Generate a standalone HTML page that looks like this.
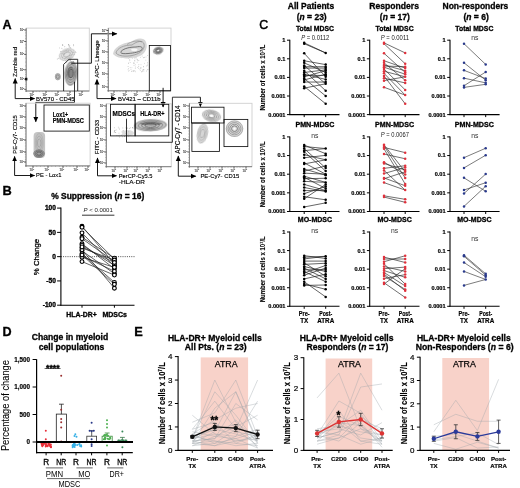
<!DOCTYPE html>
<html><head><meta charset="utf-8"><style>
html,body{margin:0;padding:0;background:#fff;width:520px;height:488px;overflow:hidden}
svg{display:block;font-family:"Liberation Sans", sans-serif;filter:blur(0.25px)}
</style></head><body>
<svg width="520" height="488" viewBox="0 0 520 488">
<defs>
<marker id="ah" markerWidth="6" markerHeight="6" refX="5" refY="3" orient="auto" markerUnits="userSpaceOnUse"><path d="M0,0.5 L5.5,3 L0,5.5 z" fill="#000"/></marker>
<filter id="blur05" x="-50%" y="-50%" width="200%" height="200%"><feGaussianBlur stdDeviation="0.45"/></filter>
<filter id="blur1" x="-50%" y="-50%" width="200%" height="200%"><feGaussianBlur stdDeviation="0.6"/></filter>
<filter id="blur2" x="-50%" y="-50%" width="200%" height="200%"><feGaussianBlur stdDeviation="1.2"/></filter>
</defs>
<text x="7.10" y="29.13" font-size="12.6" font-weight="bold" text-anchor="middle" fill="#000" stroke="#000" stroke-width="0.32">A</text>
<rect x="26.20" y="28.10" width="63.10" height="62.90" fill="none" stroke="#cfcfcf" stroke-width="0.9"/>
<line x1="26.20" y1="28.10" x2="26.20" y2="92.00" stroke="#666" stroke-width="0.8"/>
<line x1="25.20" y1="91.00" x2="89.30" y2="91.00" stroke="#666" stroke-width="0.8"/>
<line x1="24.20" y1="30.00" x2="26.20" y2="30.00" stroke="#333" stroke-width="0.8"/>
<text x="22.00" y="31.00" font-size="3.0" text-anchor="middle" fill="#333" stroke="#333" stroke-width="0.1">10<tspan font-size="2.3" dy="-1.3">x</tspan></text>
<line x1="24.20" y1="41.50" x2="26.20" y2="41.50" stroke="#333" stroke-width="0.8"/>
<text x="22.00" y="42.50" font-size="3.0" text-anchor="middle" fill="#333" stroke="#333" stroke-width="0.1">10<tspan font-size="2.3" dy="-1.3">x</tspan></text>
<line x1="24.20" y1="54.40" x2="26.20" y2="54.40" stroke="#333" stroke-width="0.8"/>
<text x="22.00" y="55.40" font-size="3.0" text-anchor="middle" fill="#333" stroke="#333" stroke-width="0.1">10<tspan font-size="2.3" dy="-1.3">x</tspan></text>
<line x1="24.20" y1="69.80" x2="26.20" y2="69.80" stroke="#333" stroke-width="0.8"/>
<text x="22.00" y="70.80" font-size="3.0" text-anchor="middle" fill="#333" stroke="#333" stroke-width="0.1">10<tspan font-size="2.3" dy="-1.3">x</tspan></text>
<line x1="24.20" y1="79.20" x2="26.20" y2="79.20" stroke="#333" stroke-width="0.8"/>
<text x="22.00" y="80.20" font-size="3.0" text-anchor="middle" fill="#333" stroke="#333" stroke-width="0.1">10<tspan font-size="2.3" dy="-1.3">x</tspan></text>
<line x1="24.20" y1="89.30" x2="26.20" y2="89.30" stroke="#333" stroke-width="0.8"/>
<text x="22.00" y="90.30" font-size="3.0" text-anchor="middle" fill="#333" stroke="#333" stroke-width="0.1">10<tspan font-size="2.3" dy="-1.3">x</tspan></text>
<line x1="25.10" y1="32.88" x2="26.20" y2="32.88" stroke="#888" stroke-width="0.5"/>
<line x1="25.10" y1="35.75" x2="26.20" y2="35.75" stroke="#888" stroke-width="0.5"/>
<line x1="25.10" y1="38.62" x2="26.20" y2="38.62" stroke="#888" stroke-width="0.5"/>
<line x1="25.10" y1="44.73" x2="26.20" y2="44.73" stroke="#888" stroke-width="0.5"/>
<line x1="25.10" y1="47.95" x2="26.20" y2="47.95" stroke="#888" stroke-width="0.5"/>
<line x1="25.10" y1="51.17" x2="26.20" y2="51.17" stroke="#888" stroke-width="0.5"/>
<line x1="25.10" y1="58.25" x2="26.20" y2="58.25" stroke="#888" stroke-width="0.5"/>
<line x1="25.10" y1="62.10" x2="26.20" y2="62.10" stroke="#888" stroke-width="0.5"/>
<line x1="25.10" y1="65.95" x2="26.20" y2="65.95" stroke="#888" stroke-width="0.5"/>
<line x1="25.10" y1="72.15" x2="26.20" y2="72.15" stroke="#888" stroke-width="0.5"/>
<line x1="25.10" y1="74.50" x2="26.20" y2="74.50" stroke="#888" stroke-width="0.5"/>
<line x1="25.10" y1="76.85" x2="26.20" y2="76.85" stroke="#888" stroke-width="0.5"/>
<line x1="25.10" y1="81.72" x2="26.20" y2="81.72" stroke="#888" stroke-width="0.5"/>
<line x1="25.10" y1="84.25" x2="26.20" y2="84.25" stroke="#888" stroke-width="0.5"/>
<line x1="25.10" y1="86.78" x2="26.20" y2="86.78" stroke="#888" stroke-width="0.5"/>
<line x1="33.00" y1="91.00" x2="33.00" y2="93.00" stroke="#333" stroke-width="0.8"/>
<text x="31.80" y="96.00" font-size="3.0" text-anchor="middle" fill="#333" stroke="#333" stroke-width="0.1">10<tspan font-size="2.3" dy="-1.3">x</tspan></text>
<line x1="46.00" y1="91.00" x2="46.00" y2="93.00" stroke="#333" stroke-width="0.8"/>
<text x="44.80" y="96.00" font-size="3.0" text-anchor="middle" fill="#333" stroke="#333" stroke-width="0.1">10<tspan font-size="2.3" dy="-1.3">x</tspan></text>
<line x1="58.00" y1="91.00" x2="58.00" y2="93.00" stroke="#333" stroke-width="0.8"/>
<text x="56.80" y="96.00" font-size="3.0" text-anchor="middle" fill="#333" stroke="#333" stroke-width="0.1">10<tspan font-size="2.3" dy="-1.3">x</tspan></text>
<line x1="70.00" y1="91.00" x2="70.00" y2="93.00" stroke="#333" stroke-width="0.8"/>
<text x="68.80" y="96.00" font-size="3.0" text-anchor="middle" fill="#333" stroke="#333" stroke-width="0.1">10<tspan font-size="2.3" dy="-1.3">x</tspan></text>
<line x1="82.00" y1="91.00" x2="82.00" y2="93.00" stroke="#333" stroke-width="0.8"/>
<text x="80.80" y="96.00" font-size="3.0" text-anchor="middle" fill="#333" stroke="#333" stroke-width="0.1">10<tspan font-size="2.3" dy="-1.3">x</tspan></text>
<line x1="36.25" y1="91.00" x2="36.25" y2="92.10" stroke="#888" stroke-width="0.5"/>
<line x1="39.50" y1="91.00" x2="39.50" y2="92.10" stroke="#888" stroke-width="0.5"/>
<line x1="42.75" y1="91.00" x2="42.75" y2="92.10" stroke="#888" stroke-width="0.5"/>
<line x1="49.00" y1="91.00" x2="49.00" y2="92.10" stroke="#888" stroke-width="0.5"/>
<line x1="52.00" y1="91.00" x2="52.00" y2="92.10" stroke="#888" stroke-width="0.5"/>
<line x1="55.00" y1="91.00" x2="55.00" y2="92.10" stroke="#888" stroke-width="0.5"/>
<line x1="61.00" y1="91.00" x2="61.00" y2="92.10" stroke="#888" stroke-width="0.5"/>
<line x1="64.00" y1="91.00" x2="64.00" y2="92.10" stroke="#888" stroke-width="0.5"/>
<line x1="67.00" y1="91.00" x2="67.00" y2="92.10" stroke="#888" stroke-width="0.5"/>
<line x1="73.00" y1="91.00" x2="73.00" y2="92.10" stroke="#888" stroke-width="0.5"/>
<line x1="76.00" y1="91.00" x2="76.00" y2="92.10" stroke="#888" stroke-width="0.5"/>
<line x1="79.00" y1="91.00" x2="79.00" y2="92.10" stroke="#888" stroke-width="0.5"/>
<rect x="25.00" y="77.80" width="2.40" height="2.60" fill="#111" stroke="none" stroke-width="1"/>
<circle cx="61.52" cy="53.80" r="0.45" fill="#999" stroke="none" stroke-width="1"/>
<circle cx="64.03" cy="54.87" r="0.45" fill="#999" stroke="none" stroke-width="1"/>
<circle cx="68.89" cy="45.18" r="0.45" fill="#999" stroke="none" stroke-width="1"/>
<circle cx="57.25" cy="59.07" r="0.45" fill="#999" stroke="none" stroke-width="1"/>
<circle cx="61.93" cy="48.22" r="0.45" fill="#999" stroke="none" stroke-width="1"/>
<circle cx="75.92" cy="52.46" r="0.45" fill="#999" stroke="none" stroke-width="1"/>
<circle cx="72.89" cy="52.57" r="0.45" fill="#999" stroke="none" stroke-width="1"/>
<circle cx="69.14" cy="46.71" r="0.45" fill="#999" stroke="none" stroke-width="1"/>
<circle cx="69.06" cy="59.62" r="0.45" fill="#999" stroke="none" stroke-width="1"/>
<circle cx="66.94" cy="57.34" r="0.45" fill="#999" stroke="none" stroke-width="1"/>
<circle cx="69.76" cy="45.15" r="0.45" fill="#999" stroke="none" stroke-width="1"/>
<circle cx="71.41" cy="54.64" r="0.45" fill="#999" stroke="none" stroke-width="1"/>
<circle cx="62.72" cy="44.56" r="0.45" fill="#999" stroke="none" stroke-width="1"/>
<circle cx="73.45" cy="52.51" r="0.45" fill="#999" stroke="none" stroke-width="1"/>
<circle cx="70.66" cy="59.82" r="0.45" fill="#999" stroke="none" stroke-width="1"/>
<circle cx="70.57" cy="60.58" r="0.45" fill="#999" stroke="none" stroke-width="1"/>
<circle cx="64.50" cy="58.42" r="0.45" fill="#999" stroke="none" stroke-width="1"/>
<circle cx="65.45" cy="60.84" r="0.45" fill="#999" stroke="none" stroke-width="1"/>
<circle cx="73.70" cy="45.75" r="0.45" fill="#999" stroke="none" stroke-width="1"/>
<circle cx="59.58" cy="47.91" r="0.45" fill="#999" stroke="none" stroke-width="1"/>
<circle cx="75.34" cy="51.85" r="0.45" fill="#999" stroke="none" stroke-width="1"/>
<circle cx="68.91" cy="49.42" r="0.45" fill="#999" stroke="none" stroke-width="1"/>
<circle cx="66.64" cy="50.95" r="0.45" fill="#999" stroke="none" stroke-width="1"/>
<circle cx="63.67" cy="54.53" r="0.45" fill="#999" stroke="none" stroke-width="1"/>
<circle cx="68.10" cy="60.28" r="0.45" fill="#999" stroke="none" stroke-width="1"/>
<circle cx="69.96" cy="60.72" r="0.45" fill="#999" stroke="none" stroke-width="1"/>
<circle cx="73.27" cy="61.84" r="0.45" fill="#999" stroke="none" stroke-width="1"/>
<circle cx="69.75" cy="46.94" r="0.45" fill="#999" stroke="none" stroke-width="1"/>
<circle cx="73.35" cy="61.36" r="0.45" fill="#999" stroke="none" stroke-width="1"/>
<circle cx="74.19" cy="54.24" r="0.45" fill="#999" stroke="none" stroke-width="1"/>
<circle cx="70.56" cy="47.80" r="0.45" fill="#999" stroke="none" stroke-width="1"/>
<circle cx="72.80" cy="54.32" r="0.45" fill="#999" stroke="none" stroke-width="1"/>
<circle cx="62.41" cy="45.14" r="0.45" fill="#999" stroke="none" stroke-width="1"/>
<circle cx="73.22" cy="61.82" r="0.45" fill="#999" stroke="none" stroke-width="1"/>
<circle cx="58.68" cy="58.41" r="0.45" fill="#999" stroke="none" stroke-width="1"/>
<circle cx="64.80" cy="46.71" r="0.45" fill="#999" stroke="none" stroke-width="1"/>
<circle cx="62.58" cy="57.84" r="0.45" fill="#999" stroke="none" stroke-width="1"/>
<circle cx="73.58" cy="44.80" r="0.45" fill="#999" stroke="none" stroke-width="1"/>
<circle cx="68.68" cy="44.81" r="0.45" fill="#999" stroke="none" stroke-width="1"/>
<circle cx="70.65" cy="49.96" r="0.45" fill="#999" stroke="none" stroke-width="1"/>
<circle cx="73.74" cy="61.65" r="0.45" fill="#999" stroke="none" stroke-width="1"/>
<circle cx="66.60" cy="61.97" r="0.45" fill="#999" stroke="none" stroke-width="1"/>
<circle cx="62.88" cy="45.39" r="0.45" fill="#999" stroke="none" stroke-width="1"/>
<circle cx="68.40" cy="44.56" r="0.45" fill="#999" stroke="none" stroke-width="1"/>
<circle cx="60.75" cy="51.34" r="0.45" fill="#999" stroke="none" stroke-width="1"/>
<g filter="url(#blur05)" transform="rotate(-25 67.00 54.50)">
<ellipse cx="67.00" cy="54.50" rx="8.64" ry="5.94" fill="#ccc" opacity="0.55"/>
<ellipse cx="67.00" cy="54.50" rx="8.00" ry="5.50" fill="none" stroke="#888" stroke-width="0.7" opacity="0.45"/>
<ellipse cx="67.00" cy="54.50" rx="5.73" ry="3.94" fill="none" stroke="#888" stroke-width="0.7" opacity="0.68"/>
<ellipse cx="67.00" cy="54.50" rx="3.47" ry="2.38" fill="none" stroke="#888" stroke-width="0.7" opacity="0.90"/>
</g>
<g filter="url(#blur05)" transform="rotate(4 71.00 73.50)">
<ellipse cx="71.00" cy="73.50" rx="6.48" ry="12.42" fill="#aaa" opacity="0.75"/>
<ellipse cx="71.00" cy="73.50" rx="6.00" ry="11.50" fill="none" stroke="#444" stroke-width="0.8" opacity="0.45"/>
<ellipse cx="71.00" cy="73.50" rx="4.72" ry="9.06" fill="none" stroke="#444" stroke-width="0.8" opacity="0.60"/>
<ellipse cx="71.00" cy="73.50" rx="3.45" ry="6.61" fill="none" stroke="#444" stroke-width="0.8" opacity="0.75"/>
<ellipse cx="71.00" cy="73.50" rx="2.18" ry="4.17" fill="none" stroke="#444" stroke-width="0.8" opacity="0.90"/>
</g>
<ellipse cx="70.6" cy="72.5" rx="3" ry="6" fill="#555" opacity="0.55" filter="url(#blur1)"/>
<g filter="url(#blur05)" transform="rotate(0 57.80 76.70)">
<ellipse cx="57.80" cy="76.70" rx="2.81" ry="3.46" fill="#aaa" opacity="0.80"/>
<ellipse cx="57.80" cy="76.70" rx="2.60" ry="3.20" fill="none" stroke="#777" stroke-width="0.7" opacity="0.45"/>
<ellipse cx="57.80" cy="76.70" rx="1.49" ry="1.84" fill="none" stroke="#777" stroke-width="0.7" opacity="0.90"/>
</g>
<polyline points="63.60,91.00 63.60,64.40 69.00,59.30 77.70,59.30 77.70,91.00" stroke="#111" stroke-width="0.85" fill="none"/>
<text x="15.20" y="64.03" font-size="6.2" font-weight="normal" text-anchor="middle" fill="#000" transform="rotate(-90 15.20 61.90)" stroke="#000" stroke-width="0.15" textLength="29.70" lengthAdjust="spacingAndGlyphs">Zombie red</text>
<polyline points="15.20,98.60 15.20,78.60" stroke="#000" stroke-width="0.9" fill="none" marker-end="url(#ah)"/>
<polyline points="15.20,98.60 34.60,98.60" stroke="#000" stroke-width="0.9" fill="none" marker-end="url(#ah)"/>
<text x="36.00" y="100.63" font-size="6.2" font-weight="normal" text-anchor="start" fill="#000" stroke="#000" stroke-width="0.15" textLength="38.60" lengthAdjust="spacingAndGlyphs">BV570 - CD45</text>
<polyline points="71.20,63.20 91.40,63.20 91.40,33.80 116.80,33.80" stroke="#000" stroke-width="0.9" fill="none" marker-end="url(#ah)"/>
<polyline points="74.50,81.70 74.50,102.40 35.80,102.40" stroke="#111" stroke-width="0.85" fill="none"/>
<polyline points="35.80,102.40 35.80,121.80" stroke="#000" stroke-width="0.9" fill="none" marker-end="url(#ah)"/>
<rect x="108.30" y="28.10" width="62.70" height="62.70" fill="none" stroke="#cfcfcf" stroke-width="0.9"/>
<line x1="108.30" y1="28.10" x2="108.30" y2="91.80" stroke="#666" stroke-width="0.8"/>
<line x1="107.30" y1="90.80" x2="171.00" y2="90.80" stroke="#666" stroke-width="0.8"/>
<line x1="106.30" y1="30.50" x2="108.30" y2="30.50" stroke="#333" stroke-width="0.8"/>
<text x="104.10" y="31.50" font-size="3.0" text-anchor="middle" fill="#333" stroke="#333" stroke-width="0.1">10<tspan font-size="2.3" dy="-1.3">x</tspan></text>
<line x1="106.30" y1="41.00" x2="108.30" y2="41.00" stroke="#333" stroke-width="0.8"/>
<text x="104.10" y="42.00" font-size="3.0" text-anchor="middle" fill="#333" stroke="#333" stroke-width="0.1">10<tspan font-size="2.3" dy="-1.3">x</tspan></text>
<line x1="106.30" y1="52.00" x2="108.30" y2="52.00" stroke="#333" stroke-width="0.8"/>
<text x="104.10" y="53.00" font-size="3.0" text-anchor="middle" fill="#333" stroke="#333" stroke-width="0.1">10<tspan font-size="2.3" dy="-1.3">x</tspan></text>
<line x1="106.30" y1="63.00" x2="108.30" y2="63.00" stroke="#333" stroke-width="0.8"/>
<text x="104.10" y="64.00" font-size="3.0" text-anchor="middle" fill="#333" stroke="#333" stroke-width="0.1">10<tspan font-size="2.3" dy="-1.3">x</tspan></text>
<line x1="106.30" y1="74.00" x2="108.30" y2="74.00" stroke="#333" stroke-width="0.8"/>
<text x="104.10" y="75.00" font-size="3.0" text-anchor="middle" fill="#333" stroke="#333" stroke-width="0.1">10<tspan font-size="2.3" dy="-1.3">x</tspan></text>
<line x1="106.30" y1="87.00" x2="108.30" y2="87.00" stroke="#333" stroke-width="0.8"/>
<text x="104.10" y="88.00" font-size="3.0" text-anchor="middle" fill="#333" stroke="#333" stroke-width="0.1">10<tspan font-size="2.3" dy="-1.3">x</tspan></text>
<line x1="107.20" y1="33.12" x2="108.30" y2="33.12" stroke="#888" stroke-width="0.5"/>
<line x1="107.20" y1="35.75" x2="108.30" y2="35.75" stroke="#888" stroke-width="0.5"/>
<line x1="107.20" y1="38.38" x2="108.30" y2="38.38" stroke="#888" stroke-width="0.5"/>
<line x1="107.20" y1="43.75" x2="108.30" y2="43.75" stroke="#888" stroke-width="0.5"/>
<line x1="107.20" y1="46.50" x2="108.30" y2="46.50" stroke="#888" stroke-width="0.5"/>
<line x1="107.20" y1="49.25" x2="108.30" y2="49.25" stroke="#888" stroke-width="0.5"/>
<line x1="107.20" y1="54.75" x2="108.30" y2="54.75" stroke="#888" stroke-width="0.5"/>
<line x1="107.20" y1="57.50" x2="108.30" y2="57.50" stroke="#888" stroke-width="0.5"/>
<line x1="107.20" y1="60.25" x2="108.30" y2="60.25" stroke="#888" stroke-width="0.5"/>
<line x1="107.20" y1="65.75" x2="108.30" y2="65.75" stroke="#888" stroke-width="0.5"/>
<line x1="107.20" y1="68.50" x2="108.30" y2="68.50" stroke="#888" stroke-width="0.5"/>
<line x1="107.20" y1="71.25" x2="108.30" y2="71.25" stroke="#888" stroke-width="0.5"/>
<line x1="107.20" y1="77.25" x2="108.30" y2="77.25" stroke="#888" stroke-width="0.5"/>
<line x1="107.20" y1="80.50" x2="108.30" y2="80.50" stroke="#888" stroke-width="0.5"/>
<line x1="107.20" y1="83.75" x2="108.30" y2="83.75" stroke="#888" stroke-width="0.5"/>
<line x1="114.00" y1="90.80" x2="114.00" y2="92.80" stroke="#333" stroke-width="0.8"/>
<text x="112.80" y="95.80" font-size="3.0" text-anchor="middle" fill="#333" stroke="#333" stroke-width="0.1">10<tspan font-size="2.3" dy="-1.3">x</tspan></text>
<line x1="126.00" y1="90.80" x2="126.00" y2="92.80" stroke="#333" stroke-width="0.8"/>
<text x="124.80" y="95.80" font-size="3.0" text-anchor="middle" fill="#333" stroke="#333" stroke-width="0.1">10<tspan font-size="2.3" dy="-1.3">x</tspan></text>
<line x1="137.00" y1="90.80" x2="137.00" y2="92.80" stroke="#333" stroke-width="0.8"/>
<text x="135.80" y="95.80" font-size="3.0" text-anchor="middle" fill="#333" stroke="#333" stroke-width="0.1">10<tspan font-size="2.3" dy="-1.3">x</tspan></text>
<line x1="149.00" y1="90.80" x2="149.00" y2="92.80" stroke="#333" stroke-width="0.8"/>
<text x="147.80" y="95.80" font-size="3.0" text-anchor="middle" fill="#333" stroke="#333" stroke-width="0.1">10<tspan font-size="2.3" dy="-1.3">x</tspan></text>
<line x1="160.00" y1="90.80" x2="160.00" y2="92.80" stroke="#333" stroke-width="0.8"/>
<text x="158.80" y="95.80" font-size="3.0" text-anchor="middle" fill="#333" stroke="#333" stroke-width="0.1">10<tspan font-size="2.3" dy="-1.3">x</tspan></text>
<line x1="117.00" y1="90.80" x2="117.00" y2="91.90" stroke="#888" stroke-width="0.5"/>
<line x1="120.00" y1="90.80" x2="120.00" y2="91.90" stroke="#888" stroke-width="0.5"/>
<line x1="123.00" y1="90.80" x2="123.00" y2="91.90" stroke="#888" stroke-width="0.5"/>
<line x1="128.75" y1="90.80" x2="128.75" y2="91.90" stroke="#888" stroke-width="0.5"/>
<line x1="131.50" y1="90.80" x2="131.50" y2="91.90" stroke="#888" stroke-width="0.5"/>
<line x1="134.25" y1="90.80" x2="134.25" y2="91.90" stroke="#888" stroke-width="0.5"/>
<line x1="140.00" y1="90.80" x2="140.00" y2="91.90" stroke="#888" stroke-width="0.5"/>
<line x1="143.00" y1="90.80" x2="143.00" y2="91.90" stroke="#888" stroke-width="0.5"/>
<line x1="146.00" y1="90.80" x2="146.00" y2="91.90" stroke="#888" stroke-width="0.5"/>
<line x1="151.75" y1="90.80" x2="151.75" y2="91.90" stroke="#888" stroke-width="0.5"/>
<line x1="154.50" y1="90.80" x2="154.50" y2="91.90" stroke="#888" stroke-width="0.5"/>
<line x1="157.25" y1="90.80" x2="157.25" y2="91.90" stroke="#888" stroke-width="0.5"/>
<circle cx="140.46" cy="67.61" r="0.42" fill="#aaa" stroke="none" stroke-width="1"/>
<circle cx="143.90" cy="71.02" r="0.42" fill="#aaa" stroke="none" stroke-width="1"/>
<circle cx="142.80" cy="70.68" r="0.42" fill="#aaa" stroke="none" stroke-width="1"/>
<circle cx="128.58" cy="62.92" r="0.42" fill="#aaa" stroke="none" stroke-width="1"/>
<circle cx="146.87" cy="66.03" r="0.42" fill="#aaa" stroke="none" stroke-width="1"/>
<circle cx="146.02" cy="56.92" r="0.42" fill="#aaa" stroke="none" stroke-width="1"/>
<circle cx="137.38" cy="59.19" r="0.42" fill="#aaa" stroke="none" stroke-width="1"/>
<circle cx="138.88" cy="64.76" r="0.42" fill="#aaa" stroke="none" stroke-width="1"/>
<circle cx="128.26" cy="58.68" r="0.42" fill="#aaa" stroke="none" stroke-width="1"/>
<circle cx="133.59" cy="70.58" r="0.42" fill="#aaa" stroke="none" stroke-width="1"/>
<circle cx="143.31" cy="57.71" r="0.42" fill="#aaa" stroke="none" stroke-width="1"/>
<circle cx="143.94" cy="57.36" r="0.42" fill="#aaa" stroke="none" stroke-width="1"/>
<circle cx="140.35" cy="57.15" r="0.42" fill="#aaa" stroke="none" stroke-width="1"/>
<circle cx="128.04" cy="69.81" r="0.42" fill="#aaa" stroke="none" stroke-width="1"/>
<circle cx="132.19" cy="58.66" r="0.42" fill="#aaa" stroke="none" stroke-width="1"/>
<circle cx="147.65" cy="69.83" r="0.42" fill="#aaa" stroke="none" stroke-width="1"/>
<circle cx="133.79" cy="71.35" r="0.42" fill="#aaa" stroke="none" stroke-width="1"/>
<circle cx="138.78" cy="66.52" r="0.42" fill="#aaa" stroke="none" stroke-width="1"/>
<circle cx="132.10" cy="71.00" r="0.42" fill="#aaa" stroke="none" stroke-width="1"/>
<circle cx="141.81" cy="71.43" r="0.42" fill="#aaa" stroke="none" stroke-width="1"/>
<circle cx="145.87" cy="60.08" r="0.42" fill="#aaa" stroke="none" stroke-width="1"/>
<circle cx="135.22" cy="57.82" r="0.42" fill="#aaa" stroke="none" stroke-width="1"/>
<circle cx="130.91" cy="56.11" r="0.42" fill="#aaa" stroke="none" stroke-width="1"/>
<circle cx="134.03" cy="65.25" r="0.42" fill="#aaa" stroke="none" stroke-width="1"/>
<circle cx="128.07" cy="66.52" r="0.42" fill="#aaa" stroke="none" stroke-width="1"/>
<circle cx="134.76" cy="60.27" r="0.42" fill="#aaa" stroke="none" stroke-width="1"/>
<circle cx="144.37" cy="63.17" r="0.42" fill="#aaa" stroke="none" stroke-width="1"/>
<circle cx="134.32" cy="63.18" r="0.42" fill="#aaa" stroke="none" stroke-width="1"/>
<circle cx="142.09" cy="55.97" r="0.42" fill="#aaa" stroke="none" stroke-width="1"/>
<circle cx="147.50" cy="55.39" r="0.42" fill="#aaa" stroke="none" stroke-width="1"/>
<circle cx="143.00" cy="69.36" r="0.42" fill="#aaa" stroke="none" stroke-width="1"/>
<circle cx="128.36" cy="68.39" r="0.42" fill="#aaa" stroke="none" stroke-width="1"/>
<circle cx="135.32" cy="64.83" r="0.42" fill="#aaa" stroke="none" stroke-width="1"/>
<circle cx="128.18" cy="55.79" r="0.42" fill="#aaa" stroke="none" stroke-width="1"/>
<circle cx="131.62" cy="71.24" r="0.42" fill="#aaa" stroke="none" stroke-width="1"/>
<circle cx="131.93" cy="67.85" r="0.42" fill="#aaa" stroke="none" stroke-width="1"/>
<circle cx="146.59" cy="71.01" r="0.42" fill="#aaa" stroke="none" stroke-width="1"/>
<circle cx="134.89" cy="61.03" r="0.42" fill="#aaa" stroke="none" stroke-width="1"/>
<circle cx="138.49" cy="68.19" r="0.42" fill="#aaa" stroke="none" stroke-width="1"/>
<circle cx="130.16" cy="67.72" r="0.42" fill="#aaa" stroke="none" stroke-width="1"/>
<circle cx="143.94" cy="69.61" r="0.42" fill="#aaa" stroke="none" stroke-width="1"/>
<circle cx="128.73" cy="71.08" r="0.42" fill="#aaa" stroke="none" stroke-width="1"/>
<circle cx="129.82" cy="60.79" r="0.42" fill="#aaa" stroke="none" stroke-width="1"/>
<circle cx="140.22" cy="70.61" r="0.42" fill="#aaa" stroke="none" stroke-width="1"/>
<circle cx="134.80" cy="70.71" r="0.42" fill="#aaa" stroke="none" stroke-width="1"/>
<circle cx="138.90" cy="60.31" r="0.42" fill="#aaa" stroke="none" stroke-width="1"/>
<circle cx="134.34" cy="58.02" r="0.42" fill="#aaa" stroke="none" stroke-width="1"/>
<circle cx="129.56" cy="57.53" r="0.42" fill="#aaa" stroke="none" stroke-width="1"/>
<circle cx="141.78" cy="71.94" r="0.42" fill="#aaa" stroke="none" stroke-width="1"/>
<circle cx="131.23" cy="55.83" r="0.42" fill="#aaa" stroke="none" stroke-width="1"/>
<circle cx="147.73" cy="64.07" r="0.42" fill="#aaa" stroke="none" stroke-width="1"/>
<circle cx="136.12" cy="59.03" r="0.42" fill="#aaa" stroke="none" stroke-width="1"/>
<circle cx="139.88" cy="69.05" r="0.42" fill="#aaa" stroke="none" stroke-width="1"/>
<circle cx="137.11" cy="62.17" r="0.42" fill="#aaa" stroke="none" stroke-width="1"/>
<circle cx="129.11" cy="70.57" r="0.42" fill="#aaa" stroke="none" stroke-width="1"/>
<circle cx="128.65" cy="63.39" r="0.42" fill="#aaa" stroke="none" stroke-width="1"/>
<circle cx="144.77" cy="57.22" r="0.42" fill="#aaa" stroke="none" stroke-width="1"/>
<circle cx="142.63" cy="71.15" r="0.42" fill="#aaa" stroke="none" stroke-width="1"/>
<circle cx="140.61" cy="68.40" r="0.42" fill="#aaa" stroke="none" stroke-width="1"/>
<circle cx="130.13" cy="62.39" r="0.42" fill="#aaa" stroke="none" stroke-width="1"/>
<circle cx="130.98" cy="69.36" r="0.42" fill="#aaa" stroke="none" stroke-width="1"/>
<circle cx="133.90" cy="62.70" r="0.42" fill="#aaa" stroke="none" stroke-width="1"/>
<circle cx="147.99" cy="69.49" r="0.42" fill="#aaa" stroke="none" stroke-width="1"/>
<circle cx="147.52" cy="62.71" r="0.42" fill="#aaa" stroke="none" stroke-width="1"/>
<circle cx="137.76" cy="67.40" r="0.42" fill="#aaa" stroke="none" stroke-width="1"/>
<circle cx="137.58" cy="59.95" r="0.42" fill="#aaa" stroke="none" stroke-width="1"/>
<circle cx="136.08" cy="57.49" r="0.42" fill="#aaa" stroke="none" stroke-width="1"/>
<circle cx="135.54" cy="71.80" r="0.42" fill="#aaa" stroke="none" stroke-width="1"/>
<circle cx="147.20" cy="65.66" r="0.42" fill="#aaa" stroke="none" stroke-width="1"/>
<circle cx="137.99" cy="60.75" r="0.42" fill="#aaa" stroke="none" stroke-width="1"/>
<circle cx="129.78" cy="59.63" r="0.42" fill="#aaa" stroke="none" stroke-width="1"/>
<circle cx="143.64" cy="69.75" r="0.42" fill="#aaa" stroke="none" stroke-width="1"/>
<circle cx="135.23" cy="68.36" r="0.42" fill="#aaa" stroke="none" stroke-width="1"/>
<circle cx="143.50" cy="66.81" r="0.42" fill="#aaa" stroke="none" stroke-width="1"/>
<circle cx="141.28" cy="67.91" r="0.42" fill="#aaa" stroke="none" stroke-width="1"/>
<circle cx="135.27" cy="66.98" r="0.42" fill="#aaa" stroke="none" stroke-width="1"/>
<circle cx="133.62" cy="63.26" r="0.42" fill="#aaa" stroke="none" stroke-width="1"/>
<circle cx="143.39" cy="66.75" r="0.42" fill="#aaa" stroke="none" stroke-width="1"/>
<circle cx="133.88" cy="71.07" r="0.42" fill="#aaa" stroke="none" stroke-width="1"/>
<circle cx="140.99" cy="64.87" r="0.42" fill="#aaa" stroke="none" stroke-width="1"/>
<path d="M113,54 C114,47 122,43 131,42 C136,38 144,37 146,42 C148,47 146,53 140,56 C132,59 118,60 113,54 Z" fill="#c8c8c8" opacity="0.75" filter="url(#blur1)"/>
<path d="M116,53 C117,48 124,45 132,45 C137,41 143,40 144,44 C145,48 142,52 137,54 C130,57 119,57 116,53 Z" fill="none" stroke="#888" stroke-width="0.8" opacity="0.8" filter="url(#blur05)"/>
<path d="M121,51.5 C124,48 131,47 136,47 C141,46 143,47 142,49.5 C140,52 134,53 128,53.5 C123,54 120,53.5 121,51.5 Z" fill="none" stroke="#555" stroke-width="0.9" opacity="0.85" filter="url(#blur05)"/>
<ellipse cx="134.3" cy="49.8" rx="3.2" ry="1.2" fill="#fff" opacity="0.8"/>
<path d="M127,44.5 C131,41 139,40 142,42" fill="none" stroke="#777" stroke-width="0.7" opacity="0.7"/>
<g filter="url(#blur05)" transform="rotate(-15 158.20 50.60)">
<ellipse cx="158.20" cy="50.60" rx="5.18" ry="3.67" fill="#999" opacity="0.50"/>
<ellipse cx="158.20" cy="50.60" rx="4.80" ry="3.40" fill="none" stroke="#333" stroke-width="0.9" opacity="0.45"/>
<ellipse cx="158.20" cy="50.60" rx="3.44" ry="2.44" fill="none" stroke="#333" stroke-width="0.9" opacity="0.68"/>
<ellipse cx="158.20" cy="50.60" rx="2.08" ry="1.47" fill="none" stroke="#333" stroke-width="0.9" opacity="0.90"/>
<ellipse cx="158.20" cy="50.60" rx="0.96" ry="0.68" fill="#fff" opacity="0.9"/>
</g>
<rect x="149.30" y="45.50" width="21.20" height="45.30" fill="none" stroke="#111" stroke-width="0.85"/>
<text x="97.00" y="61.13" font-size="6.2" font-weight="normal" text-anchor="middle" fill="#000" transform="rotate(-90 97.00 59.00)" stroke="#000" stroke-width="0.15" textLength="37.40" lengthAdjust="spacingAndGlyphs">APC- Lineage</text>
<polyline points="97.00,98.60 97.00,79.60" stroke="#000" stroke-width="0.9" fill="none" marker-end="url(#ah)"/>
<polyline points="97.00,98.60 116.00,98.60" stroke="#000" stroke-width="0.9" fill="none" marker-end="url(#ah)"/>
<text x="118.00" y="100.63" font-size="6.2" font-weight="normal" text-anchor="start" fill="#000" stroke="#000" stroke-width="0.15" textLength="42.60" lengthAdjust="spacingAndGlyphs">BV421 – CD11b</text>
<polyline points="163.10,87.80 163.10,107.00" stroke="#000" stroke-width="0.9" fill="none" marker-end="url(#ah)"/>
<rect x="26.00" y="103.20" width="64.10" height="62.70" fill="none" stroke="#cfcfcf" stroke-width="0.9"/>
<line x1="26.00" y1="103.20" x2="26.00" y2="166.90" stroke="#666" stroke-width="0.8"/>
<line x1="25.00" y1="165.90" x2="90.10" y2="165.90" stroke="#666" stroke-width="0.8"/>
<line x1="24.00" y1="106.00" x2="26.00" y2="106.00" stroke="#333" stroke-width="0.8"/>
<text x="21.80" y="107.00" font-size="3.0" text-anchor="middle" fill="#333" stroke="#333" stroke-width="0.1">10<tspan font-size="2.3" dy="-1.3">x</tspan></text>
<line x1="24.00" y1="117.00" x2="26.00" y2="117.00" stroke="#333" stroke-width="0.8"/>
<text x="21.80" y="118.00" font-size="3.0" text-anchor="middle" fill="#333" stroke="#333" stroke-width="0.1">10<tspan font-size="2.3" dy="-1.3">x</tspan></text>
<line x1="24.00" y1="128.00" x2="26.00" y2="128.00" stroke="#333" stroke-width="0.8"/>
<text x="21.80" y="129.00" font-size="3.0" text-anchor="middle" fill="#333" stroke="#333" stroke-width="0.1">10<tspan font-size="2.3" dy="-1.3">x</tspan></text>
<line x1="24.00" y1="140.00" x2="26.00" y2="140.00" stroke="#333" stroke-width="0.8"/>
<text x="21.80" y="141.00" font-size="3.0" text-anchor="middle" fill="#333" stroke="#333" stroke-width="0.1">10<tspan font-size="2.3" dy="-1.3">x</tspan></text>
<line x1="24.00" y1="152.00" x2="26.00" y2="152.00" stroke="#333" stroke-width="0.8"/>
<text x="21.80" y="153.00" font-size="3.0" text-anchor="middle" fill="#333" stroke="#333" stroke-width="0.1">10<tspan font-size="2.3" dy="-1.3">x</tspan></text>
<line x1="24.00" y1="162.00" x2="26.00" y2="162.00" stroke="#333" stroke-width="0.8"/>
<text x="21.80" y="163.00" font-size="3.0" text-anchor="middle" fill="#333" stroke="#333" stroke-width="0.1">10<tspan font-size="2.3" dy="-1.3">x</tspan></text>
<line x1="24.90" y1="108.75" x2="26.00" y2="108.75" stroke="#888" stroke-width="0.5"/>
<line x1="24.90" y1="111.50" x2="26.00" y2="111.50" stroke="#888" stroke-width="0.5"/>
<line x1="24.90" y1="114.25" x2="26.00" y2="114.25" stroke="#888" stroke-width="0.5"/>
<line x1="24.90" y1="119.75" x2="26.00" y2="119.75" stroke="#888" stroke-width="0.5"/>
<line x1="24.90" y1="122.50" x2="26.00" y2="122.50" stroke="#888" stroke-width="0.5"/>
<line x1="24.90" y1="125.25" x2="26.00" y2="125.25" stroke="#888" stroke-width="0.5"/>
<line x1="24.90" y1="131.00" x2="26.00" y2="131.00" stroke="#888" stroke-width="0.5"/>
<line x1="24.90" y1="134.00" x2="26.00" y2="134.00" stroke="#888" stroke-width="0.5"/>
<line x1="24.90" y1="137.00" x2="26.00" y2="137.00" stroke="#888" stroke-width="0.5"/>
<line x1="24.90" y1="143.00" x2="26.00" y2="143.00" stroke="#888" stroke-width="0.5"/>
<line x1="24.90" y1="146.00" x2="26.00" y2="146.00" stroke="#888" stroke-width="0.5"/>
<line x1="24.90" y1="149.00" x2="26.00" y2="149.00" stroke="#888" stroke-width="0.5"/>
<line x1="24.90" y1="154.50" x2="26.00" y2="154.50" stroke="#888" stroke-width="0.5"/>
<line x1="24.90" y1="157.00" x2="26.00" y2="157.00" stroke="#888" stroke-width="0.5"/>
<line x1="24.90" y1="159.50" x2="26.00" y2="159.50" stroke="#888" stroke-width="0.5"/>
<line x1="33.00" y1="165.90" x2="33.00" y2="167.90" stroke="#333" stroke-width="0.8"/>
<text x="31.80" y="170.90" font-size="3.0" text-anchor="middle" fill="#333" stroke="#333" stroke-width="0.1">10<tspan font-size="2.3" dy="-1.3">x</tspan></text>
<line x1="48.00" y1="165.90" x2="48.00" y2="167.90" stroke="#333" stroke-width="0.8"/>
<text x="46.80" y="170.90" font-size="3.0" text-anchor="middle" fill="#333" stroke="#333" stroke-width="0.1">10<tspan font-size="2.3" dy="-1.3">x</tspan></text>
<line x1="63.00" y1="165.90" x2="63.00" y2="167.90" stroke="#333" stroke-width="0.8"/>
<text x="61.80" y="170.90" font-size="3.0" text-anchor="middle" fill="#333" stroke="#333" stroke-width="0.1">10<tspan font-size="2.3" dy="-1.3">x</tspan></text>
<line x1="77.00" y1="165.90" x2="77.00" y2="167.90" stroke="#333" stroke-width="0.8"/>
<text x="75.80" y="170.90" font-size="3.0" text-anchor="middle" fill="#333" stroke="#333" stroke-width="0.1">10<tspan font-size="2.3" dy="-1.3">x</tspan></text>
<line x1="88.00" y1="165.90" x2="88.00" y2="167.90" stroke="#333" stroke-width="0.8"/>
<text x="86.80" y="170.90" font-size="3.0" text-anchor="middle" fill="#333" stroke="#333" stroke-width="0.1">10<tspan font-size="2.3" dy="-1.3">x</tspan></text>
<line x1="36.75" y1="165.90" x2="36.75" y2="167.00" stroke="#888" stroke-width="0.5"/>
<line x1="40.50" y1="165.90" x2="40.50" y2="167.00" stroke="#888" stroke-width="0.5"/>
<line x1="44.25" y1="165.90" x2="44.25" y2="167.00" stroke="#888" stroke-width="0.5"/>
<line x1="51.75" y1="165.90" x2="51.75" y2="167.00" stroke="#888" stroke-width="0.5"/>
<line x1="55.50" y1="165.90" x2="55.50" y2="167.00" stroke="#888" stroke-width="0.5"/>
<line x1="59.25" y1="165.90" x2="59.25" y2="167.00" stroke="#888" stroke-width="0.5"/>
<line x1="66.50" y1="165.90" x2="66.50" y2="167.00" stroke="#888" stroke-width="0.5"/>
<line x1="70.00" y1="165.90" x2="70.00" y2="167.00" stroke="#888" stroke-width="0.5"/>
<line x1="73.50" y1="165.90" x2="73.50" y2="167.00" stroke="#888" stroke-width="0.5"/>
<line x1="79.75" y1="165.90" x2="79.75" y2="167.00" stroke="#888" stroke-width="0.5"/>
<line x1="82.50" y1="165.90" x2="82.50" y2="167.00" stroke="#888" stroke-width="0.5"/>
<line x1="85.25" y1="165.90" x2="85.25" y2="167.00" stroke="#888" stroke-width="0.5"/>
<rect x="33.6" y="132" width="11.5" height="26" rx="4" fill="#b0b0b0" opacity="0.75" filter="url(#blur1)"/>
<g filter="url(#blur05)" transform="rotate(0 39.20 143.00)">
<ellipse cx="39.20" cy="143.00" rx="4.32" ry="10.26" fill="#bbb" opacity="0.40"/>
<ellipse cx="39.20" cy="143.00" rx="4.00" ry="9.50" fill="none" stroke="#999" stroke-width="0.7" opacity="0.45"/>
<ellipse cx="39.20" cy="143.00" rx="2.87" ry="6.81" fill="none" stroke="#999" stroke-width="0.7" opacity="0.68"/>
<ellipse cx="39.20" cy="143.00" rx="1.73" ry="4.12" fill="none" stroke="#999" stroke-width="0.7" opacity="0.90"/>
</g>
<g filter="url(#blur05)" transform="rotate(0 39.00 153.60)">
<ellipse cx="39.00" cy="153.60" rx="5.62" ry="4.10" fill="#888" opacity="0.60"/>
<ellipse cx="39.00" cy="153.60" rx="5.20" ry="3.80" fill="none" stroke="#555" stroke-width="0.9" opacity="0.45"/>
<ellipse cx="39.00" cy="153.60" rx="3.73" ry="2.72" fill="none" stroke="#555" stroke-width="0.9" opacity="0.68"/>
<ellipse cx="39.00" cy="153.60" rx="2.25" ry="1.65" fill="none" stroke="#555" stroke-width="0.9" opacity="0.90"/>
</g>
<rect x="44.00" y="105.00" width="45.30" height="26.10" fill="none" stroke="#111" stroke-width="0.85"/>
<text x="52.70" y="116.67" font-size="6.3" font-weight="bold" text-anchor="start" fill="#000" textLength="15.50" lengthAdjust="spacingAndGlyphs" stroke="#000" stroke-width="0.18">Lox1+</text>
<text x="52.70" y="122.67" font-size="6.3" font-weight="bold" text-anchor="start" fill="#000" textLength="31.30" lengthAdjust="spacingAndGlyphs" stroke="#000" stroke-width="0.18">PMN-MDSC</text>
<text x="15.20" y="136.63" font-size="6.2" font-weight="normal" text-anchor="middle" fill="#000" transform="rotate(-90 15.20 134.50)" stroke="#000" stroke-width="0.15" textLength="38.30" lengthAdjust="spacingAndGlyphs">PE-Cy7- CD15</text>
<polyline points="14.60,175.50 14.60,156.40" stroke="#000" stroke-width="0.9" fill="none" marker-end="url(#ah)"/>
<polyline points="14.60,175.50 34.60,175.50" stroke="#000" stroke-width="0.9" fill="none" marker-end="url(#ah)"/>
<text x="36.10" y="177.33" font-size="6.2" font-weight="normal" text-anchor="start" fill="#000" stroke="#000" stroke-width="0.15" textLength="25.30" lengthAdjust="spacingAndGlyphs">PE - Lox1</text>
<rect x="106.30" y="103.80" width="65.00" height="62.90" fill="none" stroke="#cfcfcf" stroke-width="0.9"/>
<line x1="106.30" y1="103.80" x2="106.30" y2="167.70" stroke="#666" stroke-width="0.8"/>
<line x1="105.30" y1="166.70" x2="171.30" y2="166.70" stroke="#666" stroke-width="0.8"/>
<line x1="104.30" y1="106.00" x2="106.30" y2="106.00" stroke="#333" stroke-width="0.8"/>
<text x="102.10" y="107.00" font-size="3.0" text-anchor="middle" fill="#333" stroke="#333" stroke-width="0.1">10<tspan font-size="2.3" dy="-1.3">x</tspan></text>
<line x1="104.30" y1="117.00" x2="106.30" y2="117.00" stroke="#333" stroke-width="0.8"/>
<text x="102.10" y="118.00" font-size="3.0" text-anchor="middle" fill="#333" stroke="#333" stroke-width="0.1">10<tspan font-size="2.3" dy="-1.3">x</tspan></text>
<line x1="104.30" y1="128.00" x2="106.30" y2="128.00" stroke="#333" stroke-width="0.8"/>
<text x="102.10" y="129.00" font-size="3.0" text-anchor="middle" fill="#333" stroke="#333" stroke-width="0.1">10<tspan font-size="2.3" dy="-1.3">x</tspan></text>
<line x1="104.30" y1="140.00" x2="106.30" y2="140.00" stroke="#333" stroke-width="0.8"/>
<text x="102.10" y="141.00" font-size="3.0" text-anchor="middle" fill="#333" stroke="#333" stroke-width="0.1">10<tspan font-size="2.3" dy="-1.3">x</tspan></text>
<line x1="104.30" y1="152.00" x2="106.30" y2="152.00" stroke="#333" stroke-width="0.8"/>
<text x="102.10" y="153.00" font-size="3.0" text-anchor="middle" fill="#333" stroke="#333" stroke-width="0.1">10<tspan font-size="2.3" dy="-1.3">x</tspan></text>
<line x1="104.30" y1="163.00" x2="106.30" y2="163.00" stroke="#333" stroke-width="0.8"/>
<text x="102.10" y="164.00" font-size="3.0" text-anchor="middle" fill="#333" stroke="#333" stroke-width="0.1">10<tspan font-size="2.3" dy="-1.3">x</tspan></text>
<line x1="105.20" y1="108.75" x2="106.30" y2="108.75" stroke="#888" stroke-width="0.5"/>
<line x1="105.20" y1="111.50" x2="106.30" y2="111.50" stroke="#888" stroke-width="0.5"/>
<line x1="105.20" y1="114.25" x2="106.30" y2="114.25" stroke="#888" stroke-width="0.5"/>
<line x1="105.20" y1="119.75" x2="106.30" y2="119.75" stroke="#888" stroke-width="0.5"/>
<line x1="105.20" y1="122.50" x2="106.30" y2="122.50" stroke="#888" stroke-width="0.5"/>
<line x1="105.20" y1="125.25" x2="106.30" y2="125.25" stroke="#888" stroke-width="0.5"/>
<line x1="105.20" y1="131.00" x2="106.30" y2="131.00" stroke="#888" stroke-width="0.5"/>
<line x1="105.20" y1="134.00" x2="106.30" y2="134.00" stroke="#888" stroke-width="0.5"/>
<line x1="105.20" y1="137.00" x2="106.30" y2="137.00" stroke="#888" stroke-width="0.5"/>
<line x1="105.20" y1="143.00" x2="106.30" y2="143.00" stroke="#888" stroke-width="0.5"/>
<line x1="105.20" y1="146.00" x2="106.30" y2="146.00" stroke="#888" stroke-width="0.5"/>
<line x1="105.20" y1="149.00" x2="106.30" y2="149.00" stroke="#888" stroke-width="0.5"/>
<line x1="105.20" y1="154.75" x2="106.30" y2="154.75" stroke="#888" stroke-width="0.5"/>
<line x1="105.20" y1="157.50" x2="106.30" y2="157.50" stroke="#888" stroke-width="0.5"/>
<line x1="105.20" y1="160.25" x2="106.30" y2="160.25" stroke="#888" stroke-width="0.5"/>
<line x1="115.00" y1="166.70" x2="115.00" y2="168.70" stroke="#333" stroke-width="0.8"/>
<text x="113.80" y="171.70" font-size="3.0" text-anchor="middle" fill="#333" stroke="#333" stroke-width="0.1">10<tspan font-size="2.3" dy="-1.3">x</tspan></text>
<line x1="127.00" y1="166.70" x2="127.00" y2="168.70" stroke="#333" stroke-width="0.8"/>
<text x="125.80" y="171.70" font-size="3.0" text-anchor="middle" fill="#333" stroke="#333" stroke-width="0.1">10<tspan font-size="2.3" dy="-1.3">x</tspan></text>
<line x1="137.00" y1="166.70" x2="137.00" y2="168.70" stroke="#333" stroke-width="0.8"/>
<text x="135.80" y="171.70" font-size="3.0" text-anchor="middle" fill="#333" stroke="#333" stroke-width="0.1">10<tspan font-size="2.3" dy="-1.3">x</tspan></text>
<line x1="149.00" y1="166.70" x2="149.00" y2="168.70" stroke="#333" stroke-width="0.8"/>
<text x="147.80" y="171.70" font-size="3.0" text-anchor="middle" fill="#333" stroke="#333" stroke-width="0.1">10<tspan font-size="2.3" dy="-1.3">x</tspan></text>
<line x1="161.00" y1="166.70" x2="161.00" y2="168.70" stroke="#333" stroke-width="0.8"/>
<text x="159.80" y="171.70" font-size="3.0" text-anchor="middle" fill="#333" stroke="#333" stroke-width="0.1">10<tspan font-size="2.3" dy="-1.3">x</tspan></text>
<line x1="118.00" y1="166.70" x2="118.00" y2="167.80" stroke="#888" stroke-width="0.5"/>
<line x1="121.00" y1="166.70" x2="121.00" y2="167.80" stroke="#888" stroke-width="0.5"/>
<line x1="124.00" y1="166.70" x2="124.00" y2="167.80" stroke="#888" stroke-width="0.5"/>
<line x1="129.50" y1="166.70" x2="129.50" y2="167.80" stroke="#888" stroke-width="0.5"/>
<line x1="132.00" y1="166.70" x2="132.00" y2="167.80" stroke="#888" stroke-width="0.5"/>
<line x1="134.50" y1="166.70" x2="134.50" y2="167.80" stroke="#888" stroke-width="0.5"/>
<line x1="140.00" y1="166.70" x2="140.00" y2="167.80" stroke="#888" stroke-width="0.5"/>
<line x1="143.00" y1="166.70" x2="143.00" y2="167.80" stroke="#888" stroke-width="0.5"/>
<line x1="146.00" y1="166.70" x2="146.00" y2="167.80" stroke="#888" stroke-width="0.5"/>
<line x1="152.00" y1="166.70" x2="152.00" y2="167.80" stroke="#888" stroke-width="0.5"/>
<line x1="155.00" y1="166.70" x2="155.00" y2="167.80" stroke="#888" stroke-width="0.5"/>
<line x1="158.00" y1="166.70" x2="158.00" y2="167.80" stroke="#888" stroke-width="0.5"/>
<circle cx="123.72" cy="130.73" r="0.45" fill="#999" stroke="none" stroke-width="1"/>
<circle cx="116.91" cy="135.67" r="0.45" fill="#999" stroke="none" stroke-width="1"/>
<circle cx="114.14" cy="132.03" r="0.45" fill="#999" stroke="none" stroke-width="1"/>
<circle cx="132.86" cy="127.81" r="0.45" fill="#999" stroke="none" stroke-width="1"/>
<circle cx="125.64" cy="133.17" r="0.45" fill="#999" stroke="none" stroke-width="1"/>
<circle cx="114.86" cy="130.79" r="0.45" fill="#999" stroke="none" stroke-width="1"/>
<circle cx="128.77" cy="131.52" r="0.45" fill="#999" stroke="none" stroke-width="1"/>
<circle cx="129.23" cy="128.57" r="0.45" fill="#999" stroke="none" stroke-width="1"/>
<circle cx="119.00" cy="128.11" r="0.45" fill="#999" stroke="none" stroke-width="1"/>
<circle cx="124.63" cy="136.24" r="0.45" fill="#999" stroke="none" stroke-width="1"/>
<circle cx="126.40" cy="134.74" r="0.45" fill="#999" stroke="none" stroke-width="1"/>
<circle cx="122.06" cy="134.46" r="0.45" fill="#999" stroke="none" stroke-width="1"/>
<circle cx="116.14" cy="129.91" r="0.45" fill="#999" stroke="none" stroke-width="1"/>
<circle cx="128.16" cy="134.26" r="0.45" fill="#999" stroke="none" stroke-width="1"/>
<circle cx="122.86" cy="127.88" r="0.45" fill="#999" stroke="none" stroke-width="1"/>
<circle cx="119.60" cy="129.10" r="0.45" fill="#999" stroke="none" stroke-width="1"/>
<circle cx="119.90" cy="135.10" r="0.45" fill="#999" stroke="none" stroke-width="1"/>
<circle cx="118.19" cy="135.86" r="0.45" fill="#999" stroke="none" stroke-width="1"/>
<circle cx="132.47" cy="127.55" r="0.45" fill="#999" stroke="none" stroke-width="1"/>
<circle cx="121.96" cy="131.92" r="0.45" fill="#999" stroke="none" stroke-width="1"/>
<circle cx="114.49" cy="131.25" r="0.45" fill="#999" stroke="none" stroke-width="1"/>
<circle cx="133.03" cy="128.12" r="0.45" fill="#999" stroke="none" stroke-width="1"/>
<circle cx="126.53" cy="128.21" r="0.45" fill="#999" stroke="none" stroke-width="1"/>
<circle cx="126.15" cy="135.95" r="0.45" fill="#999" stroke="none" stroke-width="1"/>
<circle cx="118.26" cy="127.08" r="0.45" fill="#999" stroke="none" stroke-width="1"/>
<circle cx="115.75" cy="132.40" r="0.45" fill="#999" stroke="none" stroke-width="1"/>
<circle cx="114.37" cy="127.85" r="0.45" fill="#999" stroke="none" stroke-width="1"/>
<circle cx="124.43" cy="136.21" r="0.45" fill="#999" stroke="none" stroke-width="1"/>
<circle cx="122.82" cy="130.98" r="0.45" fill="#999" stroke="none" stroke-width="1"/>
<circle cx="127.41" cy="127.93" r="0.45" fill="#999" stroke="none" stroke-width="1"/>
<circle cx="126.18" cy="128.73" r="0.45" fill="#999" stroke="none" stroke-width="1"/>
<circle cx="126.79" cy="136.58" r="0.45" fill="#999" stroke="none" stroke-width="1"/>
<circle cx="115.14" cy="132.55" r="0.45" fill="#999" stroke="none" stroke-width="1"/>
<circle cx="126.73" cy="128.49" r="0.45" fill="#999" stroke="none" stroke-width="1"/>
<circle cx="119.63" cy="136.95" r="0.45" fill="#999" stroke="none" stroke-width="1"/>
<circle cx="134.96" cy="128.21" r="0.45" fill="#999" stroke="none" stroke-width="1"/>
<circle cx="128.81" cy="136.51" r="0.45" fill="#999" stroke="none" stroke-width="1"/>
<circle cx="118.97" cy="133.11" r="0.45" fill="#999" stroke="none" stroke-width="1"/>
<circle cx="114.90" cy="130.66" r="0.45" fill="#999" stroke="none" stroke-width="1"/>
<circle cx="128.16" cy="132.90" r="0.45" fill="#999" stroke="none" stroke-width="1"/>
<circle cx="130.27" cy="127.87" r="0.45" fill="#999" stroke="none" stroke-width="1"/>
<circle cx="121.29" cy="135.64" r="0.45" fill="#999" stroke="none" stroke-width="1"/>
<circle cx="126.27" cy="131.51" r="0.45" fill="#999" stroke="none" stroke-width="1"/>
<circle cx="122.45" cy="136.86" r="0.45" fill="#999" stroke="none" stroke-width="1"/>
<circle cx="126.06" cy="127.18" r="0.45" fill="#999" stroke="none" stroke-width="1"/>
<ellipse cx="128" cy="133" rx="6" ry="3" fill="#bbb" opacity="0.5" filter="url(#blur1)"/>
<g filter="url(#blur05)" transform="rotate(-2 150.50 125.30)">
<ellipse cx="150.50" cy="125.30" rx="16.74" ry="6.05" fill="#aaa" opacity="0.70"/>
<ellipse cx="150.50" cy="125.30" rx="15.50" ry="5.60" fill="none" stroke="#555" stroke-width="0.9" opacity="0.45"/>
<ellipse cx="150.50" cy="125.30" rx="12.21" ry="4.41" fill="none" stroke="#555" stroke-width="0.9" opacity="0.60"/>
<ellipse cx="150.50" cy="125.30" rx="8.91" ry="3.22" fill="none" stroke="#555" stroke-width="0.9" opacity="0.75"/>
<ellipse cx="150.50" cy="125.30" rx="5.62" ry="2.03" fill="none" stroke="#555" stroke-width="0.9" opacity="0.90"/>
</g>
<ellipse cx="151" cy="123.8" rx="11" ry="1.6" fill="#444" opacity="0.5" filter="url(#blur05)"/>
<rect x="110.50" y="104.30" width="24.60" height="31.60" fill="none" stroke="#111" stroke-width="0.85"/>
<rect x="135.10" y="104.30" width="33.70" height="31.60" fill="none" stroke="#111" stroke-width="0.85"/>
<text x="112.60" y="115.80" font-size="6.4" font-weight="bold" text-anchor="start" fill="#000" textLength="22.40" lengthAdjust="spacingAndGlyphs" stroke="#000" stroke-width="0.18">MDSCs</text>
<text x="140.20" y="115.80" font-size="6.4" font-weight="bold" text-anchor="start" fill="#000" textLength="24.30" lengthAdjust="spacingAndGlyphs" stroke="#000" stroke-width="0.18">HLA-DR+</text>
<text x="97.30" y="139.13" font-size="6.2" font-weight="normal" text-anchor="middle" fill="#000" transform="rotate(-90 97.30 137.00)" stroke="#000" stroke-width="0.15" textLength="34.40" lengthAdjust="spacingAndGlyphs">FITC - CD33</text>
<polyline points="97.50,175.80 97.50,158.00" stroke="#000" stroke-width="0.9" fill="none" marker-end="url(#ah)"/>
<polyline points="97.50,175.80 116.50,175.80" stroke="#000" stroke-width="0.9" fill="none" marker-end="url(#ah)"/>
<text x="118.80" y="177.73" font-size="6.2" font-weight="normal" text-anchor="start" fill="#000" stroke="#000" stroke-width="0.15" textLength="33.70" lengthAdjust="spacingAndGlyphs">PerCP-Cy5.5</text>
<text x="118.80" y="183.73" font-size="6.2" font-weight="normal" text-anchor="start" fill="#000" stroke="#000" stroke-width="0.15" textLength="26.20" lengthAdjust="spacingAndGlyphs">-HLA-DR</text>
<polyline points="126.50,118.70 126.50,142.30 172.40,142.30 172.40,97.20 200.40,97.20" stroke="#111" stroke-width="0.85" fill="none"/>
<polyline points="200.40,97.20 200.40,106.60" stroke="#000" stroke-width="0.9" fill="none" marker-end="url(#ah)"/>
<rect x="189.40" y="103.30" width="62.60" height="63.40" fill="none" stroke="#cfcfcf" stroke-width="0.9"/>
<line x1="189.40" y1="103.30" x2="189.40" y2="167.70" stroke="#666" stroke-width="0.8"/>
<line x1="188.40" y1="166.70" x2="252.00" y2="166.70" stroke="#666" stroke-width="0.8"/>
<line x1="187.40" y1="106.00" x2="189.40" y2="106.00" stroke="#333" stroke-width="0.8"/>
<text x="185.20" y="107.00" font-size="3.0" text-anchor="middle" fill="#333" stroke="#333" stroke-width="0.1">10<tspan font-size="2.3" dy="-1.3">x</tspan></text>
<line x1="187.40" y1="117.00" x2="189.40" y2="117.00" stroke="#333" stroke-width="0.8"/>
<text x="185.20" y="118.00" font-size="3.0" text-anchor="middle" fill="#333" stroke="#333" stroke-width="0.1">10<tspan font-size="2.3" dy="-1.3">x</tspan></text>
<line x1="187.40" y1="128.00" x2="189.40" y2="128.00" stroke="#333" stroke-width="0.8"/>
<text x="185.20" y="129.00" font-size="3.0" text-anchor="middle" fill="#333" stroke="#333" stroke-width="0.1">10<tspan font-size="2.3" dy="-1.3">x</tspan></text>
<line x1="187.40" y1="140.00" x2="189.40" y2="140.00" stroke="#333" stroke-width="0.8"/>
<text x="185.20" y="141.00" font-size="3.0" text-anchor="middle" fill="#333" stroke="#333" stroke-width="0.1">10<tspan font-size="2.3" dy="-1.3">x</tspan></text>
<line x1="187.40" y1="152.00" x2="189.40" y2="152.00" stroke="#333" stroke-width="0.8"/>
<text x="185.20" y="153.00" font-size="3.0" text-anchor="middle" fill="#333" stroke="#333" stroke-width="0.1">10<tspan font-size="2.3" dy="-1.3">x</tspan></text>
<line x1="187.40" y1="163.00" x2="189.40" y2="163.00" stroke="#333" stroke-width="0.8"/>
<text x="185.20" y="164.00" font-size="3.0" text-anchor="middle" fill="#333" stroke="#333" stroke-width="0.1">10<tspan font-size="2.3" dy="-1.3">x</tspan></text>
<line x1="188.30" y1="108.75" x2="189.40" y2="108.75" stroke="#888" stroke-width="0.5"/>
<line x1="188.30" y1="111.50" x2="189.40" y2="111.50" stroke="#888" stroke-width="0.5"/>
<line x1="188.30" y1="114.25" x2="189.40" y2="114.25" stroke="#888" stroke-width="0.5"/>
<line x1="188.30" y1="119.75" x2="189.40" y2="119.75" stroke="#888" stroke-width="0.5"/>
<line x1="188.30" y1="122.50" x2="189.40" y2="122.50" stroke="#888" stroke-width="0.5"/>
<line x1="188.30" y1="125.25" x2="189.40" y2="125.25" stroke="#888" stroke-width="0.5"/>
<line x1="188.30" y1="131.00" x2="189.40" y2="131.00" stroke="#888" stroke-width="0.5"/>
<line x1="188.30" y1="134.00" x2="189.40" y2="134.00" stroke="#888" stroke-width="0.5"/>
<line x1="188.30" y1="137.00" x2="189.40" y2="137.00" stroke="#888" stroke-width="0.5"/>
<line x1="188.30" y1="143.00" x2="189.40" y2="143.00" stroke="#888" stroke-width="0.5"/>
<line x1="188.30" y1="146.00" x2="189.40" y2="146.00" stroke="#888" stroke-width="0.5"/>
<line x1="188.30" y1="149.00" x2="189.40" y2="149.00" stroke="#888" stroke-width="0.5"/>
<line x1="188.30" y1="154.75" x2="189.40" y2="154.75" stroke="#888" stroke-width="0.5"/>
<line x1="188.30" y1="157.50" x2="189.40" y2="157.50" stroke="#888" stroke-width="0.5"/>
<line x1="188.30" y1="160.25" x2="189.40" y2="160.25" stroke="#888" stroke-width="0.5"/>
<line x1="198.00" y1="166.70" x2="198.00" y2="168.70" stroke="#333" stroke-width="0.8"/>
<text x="196.80" y="171.70" font-size="3.0" text-anchor="middle" fill="#333" stroke="#333" stroke-width="0.1">10<tspan font-size="2.3" dy="-1.3">x</tspan></text>
<line x1="210.00" y1="166.70" x2="210.00" y2="168.70" stroke="#333" stroke-width="0.8"/>
<text x="208.80" y="171.70" font-size="3.0" text-anchor="middle" fill="#333" stroke="#333" stroke-width="0.1">10<tspan font-size="2.3" dy="-1.3">x</tspan></text>
<line x1="222.00" y1="166.70" x2="222.00" y2="168.70" stroke="#333" stroke-width="0.8"/>
<text x="220.80" y="171.70" font-size="3.0" text-anchor="middle" fill="#333" stroke="#333" stroke-width="0.1">10<tspan font-size="2.3" dy="-1.3">x</tspan></text>
<line x1="234.00" y1="166.70" x2="234.00" y2="168.70" stroke="#333" stroke-width="0.8"/>
<text x="232.80" y="171.70" font-size="3.0" text-anchor="middle" fill="#333" stroke="#333" stroke-width="0.1">10<tspan font-size="2.3" dy="-1.3">x</tspan></text>
<line x1="246.00" y1="166.70" x2="246.00" y2="168.70" stroke="#333" stroke-width="0.8"/>
<text x="244.80" y="171.70" font-size="3.0" text-anchor="middle" fill="#333" stroke="#333" stroke-width="0.1">10<tspan font-size="2.3" dy="-1.3">x</tspan></text>
<line x1="201.00" y1="166.70" x2="201.00" y2="167.80" stroke="#888" stroke-width="0.5"/>
<line x1="204.00" y1="166.70" x2="204.00" y2="167.80" stroke="#888" stroke-width="0.5"/>
<line x1="207.00" y1="166.70" x2="207.00" y2="167.80" stroke="#888" stroke-width="0.5"/>
<line x1="213.00" y1="166.70" x2="213.00" y2="167.80" stroke="#888" stroke-width="0.5"/>
<line x1="216.00" y1="166.70" x2="216.00" y2="167.80" stroke="#888" stroke-width="0.5"/>
<line x1="219.00" y1="166.70" x2="219.00" y2="167.80" stroke="#888" stroke-width="0.5"/>
<line x1="225.00" y1="166.70" x2="225.00" y2="167.80" stroke="#888" stroke-width="0.5"/>
<line x1="228.00" y1="166.70" x2="228.00" y2="167.80" stroke="#888" stroke-width="0.5"/>
<line x1="231.00" y1="166.70" x2="231.00" y2="167.80" stroke="#888" stroke-width="0.5"/>
<line x1="237.00" y1="166.70" x2="237.00" y2="167.80" stroke="#888" stroke-width="0.5"/>
<line x1="240.00" y1="166.70" x2="240.00" y2="167.80" stroke="#888" stroke-width="0.5"/>
<line x1="243.00" y1="166.70" x2="243.00" y2="167.80" stroke="#888" stroke-width="0.5"/>
<g filter="url(#blur05)" transform="rotate(12 211.50 115.80)">
<ellipse cx="211.50" cy="115.80" rx="9.72" ry="6.05" fill="#bbb" opacity="0.55"/>
<ellipse cx="211.50" cy="115.80" rx="9.00" ry="5.60" fill="none" stroke="#777" stroke-width="0.8" opacity="0.45"/>
<ellipse cx="211.50" cy="115.80" rx="7.09" ry="4.41" fill="none" stroke="#777" stroke-width="0.8" opacity="0.60"/>
<ellipse cx="211.50" cy="115.80" rx="5.17" ry="3.22" fill="none" stroke="#777" stroke-width="0.8" opacity="0.75"/>
<ellipse cx="211.50" cy="115.80" rx="3.26" ry="2.03" fill="none" stroke="#777" stroke-width="0.8" opacity="0.90"/>
<ellipse cx="211.50" cy="115.80" rx="1.98" ry="1.23" fill="#fff" opacity="0.9"/>
</g>
<g filter="url(#blur05)" transform="rotate(12 202.40 133.50)">
<ellipse cx="202.40" cy="133.50" rx="5.40" ry="10.26" fill="#bbb" opacity="0.60"/>
<ellipse cx="202.40" cy="133.50" rx="5.00" ry="9.50" fill="none" stroke="#999" stroke-width="0.7" opacity="0.45"/>
<ellipse cx="202.40" cy="133.50" rx="3.58" ry="6.81" fill="none" stroke="#999" stroke-width="0.7" opacity="0.68"/>
<ellipse cx="202.40" cy="133.50" rx="2.17" ry="4.12" fill="none" stroke="#999" stroke-width="0.7" opacity="0.90"/>
</g>
<g filter="url(#blur05)" transform="rotate(0 234.50 128.70)">
<ellipse cx="234.50" cy="128.70" rx="8.86" ry="8.42" fill="#aaa" opacity="0.45"/>
<ellipse cx="234.50" cy="128.70" rx="8.20" ry="7.80" fill="none" stroke="#666" stroke-width="0.8" opacity="0.45"/>
<ellipse cx="234.50" cy="128.70" rx="6.46" ry="6.14" fill="none" stroke="#666" stroke-width="0.8" opacity="0.60"/>
<ellipse cx="234.50" cy="128.70" rx="4.71" ry="4.48" fill="none" stroke="#666" stroke-width="0.8" opacity="0.75"/>
<ellipse cx="234.50" cy="128.70" rx="2.97" ry="2.83" fill="none" stroke="#666" stroke-width="0.8" opacity="0.90"/>
<ellipse cx="234.50" cy="128.70" rx="1.23" ry="1.17" fill="#fff" opacity="0.9"/>
</g>
<rect x="191.50" y="107.20" width="32.50" height="15.80" fill="none" stroke="#111" stroke-width="0.85"/>
<rect x="191.90" y="123.00" width="27.50" height="28.40" fill="none" stroke="#111" stroke-width="0.85"/>
<rect x="224.00" y="119.40" width="23.80" height="27.20" fill="none" stroke="#111" stroke-width="0.85"/>
<text x="178.30" y="131.77" font-size="6.3" font-weight="normal" text-anchor="middle" fill="#000" transform="rotate(-90 178.30 129.60)" stroke="#000" stroke-width="0.15" textLength="48.50" lengthAdjust="spacingAndGlyphs">APC-Cy7 - CD14</text>
<polyline points="178.30,176.20 178.30,156.00" stroke="#000" stroke-width="0.9" fill="none" marker-end="url(#ah)"/>
<polyline points="178.30,176.20 195.80,176.20" stroke="#000" stroke-width="0.9" fill="none" marker-end="url(#ah)"/>
<text x="200.40" y="177.93" font-size="6.2" font-weight="normal" text-anchor="start" fill="#000" stroke="#000" stroke-width="0.15" textLength="38.80" lengthAdjust="spacingAndGlyphs">PE-Cy7- CD15</text>
<text x="7.15" y="195.00" font-size="12.8" font-weight="bold" text-anchor="middle" fill="#000" stroke="#000" stroke-width="0.32">B</text>
<text x="97.75" y="198.61" font-size="8.45" font-weight="bold" text-anchor="middle" fill="#000" stroke="#000" stroke-width="0.32">% Suppression (<tspan font-style="italic">n</tspan> = 16)</text>
<line x1="60.90" y1="207.60" x2="60.90" y2="305.70" stroke="#000" stroke-width="1.1"/>
<line x1="60.40" y1="305.20" x2="134.50" y2="305.20" stroke="#000" stroke-width="1.1"/>
<line x1="57.10" y1="208.10" x2="60.90" y2="208.10" stroke="#000" stroke-width="1"/>
<text x="55.90" y="210.37" font-size="6.6" font-weight="bold" text-anchor="end" fill="#000" stroke="#000" stroke-width="0.32">100</text>
<line x1="57.10" y1="232.38" x2="60.90" y2="232.38" stroke="#000" stroke-width="1"/>
<text x="55.90" y="234.65" font-size="6.6" font-weight="bold" text-anchor="end" fill="#000" stroke="#000" stroke-width="0.32">50</text>
<line x1="57.10" y1="256.65" x2="60.90" y2="256.65" stroke="#000" stroke-width="1"/>
<text x="55.90" y="258.92" font-size="6.6" font-weight="bold" text-anchor="end" fill="#000" stroke="#000" stroke-width="0.32">0</text>
<line x1="57.10" y1="280.93" x2="60.90" y2="280.93" stroke="#000" stroke-width="1"/>
<text x="55.90" y="283.20" font-size="6.6" font-weight="bold" text-anchor="end" fill="#000" stroke="#000" stroke-width="0.32">-50</text>
<line x1="57.10" y1="305.20" x2="60.90" y2="305.20" stroke="#000" stroke-width="1"/>
<text x="55.90" y="307.47" font-size="6.6" font-weight="bold" text-anchor="end" fill="#000" stroke="#000" stroke-width="0.32">-100</text>
<line x1="60.90" y1="256.65" x2="134.50" y2="256.65" stroke="#000" stroke-width="0.7" stroke-dasharray="1 1.2"/>
<line x1="82.00" y1="305.20" x2="82.00" y2="307.70" stroke="#000" stroke-width="1"/>
<line x1="114.40" y1="305.20" x2="114.40" y2="307.70" stroke="#000" stroke-width="1"/>
<text x="81.50" y="316.67" font-size="6.9" font-weight="bold" text-anchor="middle" fill="#000" stroke="#000" stroke-width="0.32">HLA-DR+</text>
<text x="114.70" y="316.71" font-size="7.0" font-weight="bold" text-anchor="middle" fill="#000" stroke="#000" stroke-width="0.32">MDSCs</text>
<text x="98.20" y="211.86" font-size="6.0" font-weight="normal" text-anchor="middle" fill="#222"><tspan font-style="italic">P</tspan> &lt; 0.0001</text>
<line x1="82.00" y1="215.20" x2="114.40" y2="215.20" stroke="#000" stroke-width="0.8"/>
<text x="36.00" y="259.68" font-size="7.8" font-weight="normal" text-anchor="middle" fill="#000" transform="rotate(-90 36.00 257.00)" stroke="#000" stroke-width="0.3">% Change</text>
<line x1="82.00" y1="226.21" x2="114.40" y2="263.93" stroke="#222" stroke-width="0.7"/>
<line x1="82.00" y1="227.28" x2="114.40" y2="259.08" stroke="#222" stroke-width="0.7"/>
<line x1="82.00" y1="232.86" x2="114.40" y2="266.36" stroke="#222" stroke-width="0.7"/>
<line x1="82.00" y1="237.23" x2="114.40" y2="258.11" stroke="#222" stroke-width="0.7"/>
<line x1="82.00" y1="238.69" x2="114.40" y2="261.50" stroke="#222" stroke-width="0.7"/>
<line x1="82.00" y1="243.74" x2="114.40" y2="268.79" stroke="#222" stroke-width="0.7"/>
<line x1="82.00" y1="245.10" x2="114.40" y2="265.39" stroke="#222" stroke-width="0.7"/>
<line x1="82.00" y1="248.01" x2="114.40" y2="260.05" stroke="#222" stroke-width="0.7"/>
<line x1="82.00" y1="250.87" x2="114.40" y2="273.64" stroke="#222" stroke-width="0.7"/>
<line x1="82.00" y1="253.69" x2="114.40" y2="282.38" stroke="#222" stroke-width="0.7"/>
<line x1="82.00" y1="255.87" x2="114.40" y2="271.21" stroke="#222" stroke-width="0.7"/>
<line x1="82.00" y1="257.28" x2="114.40" y2="267.33" stroke="#222" stroke-width="0.7"/>
<line x1="82.00" y1="261.60" x2="114.40" y2="275.10" stroke="#222" stroke-width="0.7"/>
<line x1="82.00" y1="249.85" x2="114.40" y2="288.21" stroke="#222" stroke-width="0.7"/>
<line x1="82.00" y1="254.95" x2="114.40" y2="284.32" stroke="#222" stroke-width="0.7"/>
<line x1="82.00" y1="246.94" x2="114.40" y2="262.48" stroke="#222" stroke-width="0.7"/>
<circle cx="82.00" cy="226.21" r="1.90" fill="#fff" stroke="#000" stroke-width="1.15"/>
<circle cx="114.40" cy="263.93" r="1.90" fill="#fff" stroke="#000" stroke-width="1.15"/>
<circle cx="82.00" cy="227.28" r="1.90" fill="#fff" stroke="#000" stroke-width="1.15"/>
<circle cx="114.40" cy="259.08" r="1.90" fill="#fff" stroke="#000" stroke-width="1.15"/>
<circle cx="82.00" cy="232.86" r="1.90" fill="#fff" stroke="#000" stroke-width="1.15"/>
<circle cx="114.40" cy="266.36" r="1.90" fill="#fff" stroke="#000" stroke-width="1.15"/>
<circle cx="82.00" cy="237.23" r="1.90" fill="#fff" stroke="#000" stroke-width="1.15"/>
<circle cx="114.40" cy="258.11" r="1.90" fill="#fff" stroke="#000" stroke-width="1.15"/>
<circle cx="82.00" cy="238.69" r="1.90" fill="#fff" stroke="#000" stroke-width="1.15"/>
<circle cx="114.40" cy="261.50" r="1.90" fill="#fff" stroke="#000" stroke-width="1.15"/>
<circle cx="82.00" cy="243.74" r="1.90" fill="#fff" stroke="#000" stroke-width="1.15"/>
<circle cx="114.40" cy="268.79" r="1.90" fill="#fff" stroke="#000" stroke-width="1.15"/>
<circle cx="82.00" cy="245.10" r="1.90" fill="#fff" stroke="#000" stroke-width="1.15"/>
<circle cx="114.40" cy="265.39" r="1.90" fill="#fff" stroke="#000" stroke-width="1.15"/>
<circle cx="82.00" cy="248.01" r="1.90" fill="#fff" stroke="#000" stroke-width="1.15"/>
<circle cx="114.40" cy="260.05" r="1.90" fill="#fff" stroke="#000" stroke-width="1.15"/>
<circle cx="82.00" cy="250.87" r="1.90" fill="#fff" stroke="#000" stroke-width="1.15"/>
<circle cx="114.40" cy="273.64" r="1.90" fill="#fff" stroke="#000" stroke-width="1.15"/>
<circle cx="82.00" cy="253.69" r="1.90" fill="#fff" stroke="#000" stroke-width="1.15"/>
<circle cx="114.40" cy="282.38" r="1.90" fill="#fff" stroke="#000" stroke-width="1.15"/>
<circle cx="82.00" cy="255.87" r="1.90" fill="#fff" stroke="#000" stroke-width="1.15"/>
<circle cx="114.40" cy="271.21" r="1.90" fill="#fff" stroke="#000" stroke-width="1.15"/>
<circle cx="82.00" cy="257.28" r="1.90" fill="#fff" stroke="#000" stroke-width="1.15"/>
<circle cx="114.40" cy="267.33" r="1.90" fill="#fff" stroke="#000" stroke-width="1.15"/>
<circle cx="82.00" cy="261.60" r="1.90" fill="#fff" stroke="#000" stroke-width="1.15"/>
<circle cx="114.40" cy="275.10" r="1.90" fill="#fff" stroke="#000" stroke-width="1.15"/>
<circle cx="82.00" cy="249.85" r="1.90" fill="#fff" stroke="#000" stroke-width="1.15"/>
<circle cx="114.40" cy="288.21" r="1.90" fill="#fff" stroke="#000" stroke-width="1.15"/>
<circle cx="82.00" cy="254.95" r="1.90" fill="#fff" stroke="#000" stroke-width="1.15"/>
<circle cx="114.40" cy="284.32" r="1.90" fill="#fff" stroke="#000" stroke-width="1.15"/>
<circle cx="82.00" cy="246.94" r="1.90" fill="#fff" stroke="#000" stroke-width="1.15"/>
<circle cx="114.40" cy="262.48" r="1.90" fill="#fff" stroke="#000" stroke-width="1.15"/>
<text x="263.80" y="28.87" font-size="12.4" font-weight="normal" text-anchor="middle" fill="#000" stroke="#000" stroke-width="0.45">C</text>
<text x="311.00" y="8.70" font-size="9.3" font-weight="bold" text-anchor="middle" fill="#000" textLength="46.40" lengthAdjust="spacingAndGlyphs" stroke="#000" stroke-width="0.32">All Patients</text>
<text x="311.70" y="19.80" font-size="9.3" font-weight="bold" text-anchor="middle" fill="#000" textLength="30.00" lengthAdjust="spacingAndGlyphs" stroke="#000" stroke-width="0.32">(<tspan font-style="italic">n</tspan> = 23)</text>
<text x="394.10" y="8.70" font-size="9.3" font-weight="bold" text-anchor="middle" fill="#000" textLength="49.80" lengthAdjust="spacingAndGlyphs" stroke="#000" stroke-width="0.32">Responders</text>
<text x="394.80" y="19.80" font-size="9.3" font-weight="bold" text-anchor="middle" fill="#000" textLength="30.00" lengthAdjust="spacingAndGlyphs" stroke="#000" stroke-width="0.32">(<tspan font-style="italic">n</tspan> = 17)</text>
<text x="475.40" y="8.70" font-size="9.3" font-weight="bold" text-anchor="middle" fill="#000" textLength="65.80" lengthAdjust="spacingAndGlyphs" stroke="#000" stroke-width="0.32">Non-responders</text>
<text x="476.10" y="19.80" font-size="9.3" font-weight="bold" text-anchor="middle" fill="#000" textLength="25.40" lengthAdjust="spacingAndGlyphs" stroke="#000" stroke-width="0.32">(<tspan font-style="italic">n</tspan> = 6)</text>
<line x1="289.80" y1="39.70" x2="289.80" y2="115.10" stroke="#000" stroke-width="1.1"/>
<line x1="289.30" y1="114.60" x2="339.50" y2="114.60" stroke="#000" stroke-width="1.1"/>
<line x1="287.00" y1="40.20" x2="289.80" y2="40.20" stroke="#000" stroke-width="1"/>
<text x="285.40" y="42.13" font-size="5.6" font-weight="bold" text-anchor="end" fill="#000" stroke="#000" stroke-width="0.18">1</text>
<line x1="287.00" y1="58.80" x2="289.80" y2="58.80" stroke="#000" stroke-width="1"/>
<text x="285.40" y="60.73" font-size="5.6" font-weight="bold" text-anchor="end" fill="#000" stroke="#000" stroke-width="0.18">0.1</text>
<line x1="287.00" y1="77.40" x2="289.80" y2="77.40" stroke="#000" stroke-width="1"/>
<text x="285.40" y="79.33" font-size="5.6" font-weight="bold" text-anchor="end" fill="#000" stroke="#000" stroke-width="0.18">0.01</text>
<line x1="287.00" y1="96.00" x2="289.80" y2="96.00" stroke="#000" stroke-width="1"/>
<text x="285.40" y="97.93" font-size="5.6" font-weight="bold" text-anchor="end" fill="#000" stroke="#000" stroke-width="0.18">0.001</text>
<line x1="287.00" y1="114.60" x2="289.80" y2="114.60" stroke="#000" stroke-width="1"/>
<text x="285.40" y="116.53" font-size="5.6" font-weight="bold" text-anchor="end" fill="#000" stroke="#000" stroke-width="0.18">0.0001</text>
<line x1="304.20" y1="114.60" x2="304.20" y2="117.10" stroke="#000" stroke-width="1"/>
<line x1="325.70" y1="114.60" x2="325.70" y2="117.10" stroke="#000" stroke-width="1"/>
<text x="314.95" y="30.91" font-size="7.6" font-weight="bold" text-anchor="middle" fill="#000" textLength="38.00" lengthAdjust="spacingAndGlyphs" stroke="#000" stroke-width="0.32">Total MDSC</text>
<text x="315.25" y="39.80" font-size="6.4" font-weight="normal" text-anchor="middle" fill="#222" textLength="28.20" lengthAdjust="spacingAndGlyphs"><tspan font-style="italic">P</tspan> = 0.0112</text>
<line x1="304.20" y1="42.84" x2="325.70" y2="52.94" stroke="#222" stroke-width="0.7"/>
<line x1="304.20" y1="43.71" x2="325.70" y2="52.94" stroke="#222" stroke-width="0.7"/>
<line x1="304.20" y1="53.29" x2="325.70" y2="76.81" stroke="#222" stroke-width="0.7"/>
<line x1="304.20" y1="60.78" x2="325.70" y2="64.62" stroke="#222" stroke-width="0.7"/>
<line x1="304.20" y1="62.87" x2="325.70" y2="72.46" stroke="#222" stroke-width="0.7"/>
<line x1="304.20" y1="65.49" x2="325.70" y2="83.78" stroke="#222" stroke-width="0.7"/>
<line x1="304.20" y1="68.10" x2="325.70" y2="68.10" stroke="#222" stroke-width="0.7"/>
<line x1="304.20" y1="70.71" x2="325.70" y2="90.75" stroke="#222" stroke-width="0.7"/>
<line x1="304.20" y1="72.46" x2="325.70" y2="69.84" stroke="#222" stroke-width="0.7"/>
<line x1="304.20" y1="74.20" x2="325.70" y2="79.43" stroke="#222" stroke-width="0.7"/>
<line x1="304.20" y1="76.81" x2="325.70" y2="70.71" stroke="#222" stroke-width="0.7"/>
<line x1="304.20" y1="78.55" x2="325.70" y2="95.98" stroke="#222" stroke-width="0.7"/>
<line x1="304.20" y1="79.95" x2="325.70" y2="74.20" stroke="#222" stroke-width="0.7"/>
<line x1="304.20" y1="82.04" x2="325.70" y2="82.04" stroke="#222" stroke-width="0.7"/>
<line x1="304.20" y1="86.39" x2="325.70" y2="103.82" stroke="#222" stroke-width="0.7"/>
<line x1="304.20" y1="88.14" x2="325.70" y2="83.78" stroke="#222" stroke-width="0.7"/>
<line x1="304.20" y1="66.71" x2="325.70" y2="66.71" stroke="#222" stroke-width="0.7"/>
<line x1="304.20" y1="75.42" x2="325.70" y2="75.42" stroke="#222" stroke-width="0.7"/>
<circle cx="304.20" cy="42.84" r="1.25" fill="#000" stroke="none" stroke-width="1"/>
<circle cx="304.20" cy="43.71" r="1.25" fill="#000" stroke="none" stroke-width="1"/>
<circle cx="304.20" cy="53.29" r="1.25" fill="#000" stroke="none" stroke-width="1"/>
<circle cx="304.20" cy="60.78" r="1.25" fill="#000" stroke="none" stroke-width="1"/>
<circle cx="304.20" cy="62.87" r="1.25" fill="#000" stroke="none" stroke-width="1"/>
<circle cx="304.20" cy="65.49" r="1.25" fill="#000" stroke="none" stroke-width="1"/>
<circle cx="304.20" cy="68.10" r="1.25" fill="#000" stroke="none" stroke-width="1"/>
<circle cx="304.20" cy="70.71" r="1.25" fill="#000" stroke="none" stroke-width="1"/>
<circle cx="304.20" cy="72.46" r="1.25" fill="#000" stroke="none" stroke-width="1"/>
<circle cx="304.20" cy="74.20" r="1.25" fill="#000" stroke="none" stroke-width="1"/>
<circle cx="304.20" cy="76.81" r="1.25" fill="#000" stroke="none" stroke-width="1"/>
<circle cx="304.20" cy="78.55" r="1.25" fill="#000" stroke="none" stroke-width="1"/>
<circle cx="304.20" cy="79.95" r="1.25" fill="#000" stroke="none" stroke-width="1"/>
<circle cx="304.20" cy="82.04" r="1.25" fill="#000" stroke="none" stroke-width="1"/>
<circle cx="304.20" cy="86.39" r="1.25" fill="#000" stroke="none" stroke-width="1"/>
<circle cx="304.20" cy="88.14" r="1.25" fill="#000" stroke="none" stroke-width="1"/>
<circle cx="304.20" cy="66.71" r="1.25" fill="#000" stroke="none" stroke-width="1"/>
<circle cx="304.20" cy="75.42" r="1.25" fill="#000" stroke="none" stroke-width="1"/>
<circle cx="325.70" cy="52.94" r="1.25" fill="#000" stroke="none" stroke-width="1"/>
<circle cx="325.70" cy="64.62" r="1.25" fill="#000" stroke="none" stroke-width="1"/>
<circle cx="325.70" cy="68.10" r="1.25" fill="#000" stroke="none" stroke-width="1"/>
<circle cx="325.70" cy="69.84" r="1.25" fill="#000" stroke="none" stroke-width="1"/>
<circle cx="325.70" cy="70.71" r="1.25" fill="#000" stroke="none" stroke-width="1"/>
<circle cx="325.70" cy="72.46" r="1.25" fill="#000" stroke="none" stroke-width="1"/>
<circle cx="325.70" cy="74.20" r="1.25" fill="#000" stroke="none" stroke-width="1"/>
<circle cx="325.70" cy="76.81" r="1.25" fill="#000" stroke="none" stroke-width="1"/>
<circle cx="325.70" cy="79.43" r="1.25" fill="#000" stroke="none" stroke-width="1"/>
<circle cx="325.70" cy="82.04" r="1.25" fill="#000" stroke="none" stroke-width="1"/>
<circle cx="325.70" cy="83.78" r="1.25" fill="#000" stroke="none" stroke-width="1"/>
<circle cx="325.70" cy="90.75" r="1.25" fill="#000" stroke="none" stroke-width="1"/>
<circle cx="325.70" cy="95.98" r="1.25" fill="#000" stroke="none" stroke-width="1"/>
<circle cx="325.70" cy="103.82" r="1.25" fill="#000" stroke="none" stroke-width="1"/>
<circle cx="325.70" cy="66.71" r="1.25" fill="#000" stroke="none" stroke-width="1"/>
<circle cx="325.70" cy="75.42" r="1.25" fill="#000" stroke="none" stroke-width="1"/>
<line x1="369.70" y1="39.70" x2="369.70" y2="115.10" stroke="#000" stroke-width="1.1"/>
<line x1="369.20" y1="114.60" x2="419.50" y2="114.60" stroke="#000" stroke-width="1.1"/>
<line x1="366.90" y1="40.20" x2="369.70" y2="40.20" stroke="#000" stroke-width="1"/>
<text x="365.30" y="42.13" font-size="5.6" font-weight="bold" text-anchor="end" fill="#000" stroke="#000" stroke-width="0.18">1</text>
<line x1="366.90" y1="58.80" x2="369.70" y2="58.80" stroke="#000" stroke-width="1"/>
<text x="365.30" y="60.73" font-size="5.6" font-weight="bold" text-anchor="end" fill="#000" stroke="#000" stroke-width="0.18">0.1</text>
<line x1="366.90" y1="77.40" x2="369.70" y2="77.40" stroke="#000" stroke-width="1"/>
<text x="365.30" y="79.33" font-size="5.6" font-weight="bold" text-anchor="end" fill="#000" stroke="#000" stroke-width="0.18">0.01</text>
<line x1="366.90" y1="96.00" x2="369.70" y2="96.00" stroke="#000" stroke-width="1"/>
<text x="365.30" y="97.93" font-size="5.6" font-weight="bold" text-anchor="end" fill="#000" stroke="#000" stroke-width="0.18">0.001</text>
<line x1="366.90" y1="114.60" x2="369.70" y2="114.60" stroke="#000" stroke-width="1"/>
<text x="365.30" y="116.53" font-size="5.6" font-weight="bold" text-anchor="end" fill="#000" stroke="#000" stroke-width="0.18">0.0001</text>
<line x1="384.00" y1="114.60" x2="384.00" y2="117.10" stroke="#000" stroke-width="1"/>
<line x1="405.20" y1="114.60" x2="405.20" y2="117.10" stroke="#000" stroke-width="1"/>
<text x="394.60" y="30.91" font-size="7.6" font-weight="bold" text-anchor="middle" fill="#000" textLength="38.00" lengthAdjust="spacingAndGlyphs" stroke="#000" stroke-width="0.32">Total MDSC</text>
<text x="394.90" y="39.80" font-size="6.4" font-weight="normal" text-anchor="middle" fill="#222" textLength="28.20" lengthAdjust="spacingAndGlyphs"><tspan font-style="italic">P</tspan> = 0.0011</text>
<line x1="384.00" y1="42.84" x2="405.20" y2="52.94" stroke="#333" stroke-width="0.7"/>
<line x1="384.00" y1="43.71" x2="405.20" y2="63.75" stroke="#333" stroke-width="0.7"/>
<line x1="384.00" y1="53.29" x2="405.20" y2="72.46" stroke="#333" stroke-width="0.7"/>
<line x1="384.00" y1="60.78" x2="405.20" y2="68.10" stroke="#333" stroke-width="0.7"/>
<line x1="384.00" y1="62.87" x2="405.20" y2="80.30" stroke="#333" stroke-width="0.7"/>
<line x1="384.00" y1="64.97" x2="405.20" y2="70.71" stroke="#333" stroke-width="0.7"/>
<line x1="384.00" y1="67.23" x2="405.20" y2="74.20" stroke="#333" stroke-width="0.7"/>
<line x1="384.00" y1="68.97" x2="405.20" y2="89.88" stroke="#333" stroke-width="0.7"/>
<line x1="384.00" y1="71.24" x2="405.20" y2="76.81" stroke="#333" stroke-width="0.7"/>
<line x1="384.00" y1="73.33" x2="405.20" y2="95.10" stroke="#333" stroke-width="0.7"/>
<line x1="384.00" y1="75.94" x2="405.20" y2="103.82" stroke="#333" stroke-width="0.7"/>
<line x1="384.00" y1="78.21" x2="405.20" y2="82.91" stroke="#333" stroke-width="0.7"/>
<line x1="384.00" y1="80.64" x2="405.20" y2="76.81" stroke="#333" stroke-width="0.7"/>
<line x1="384.00" y1="87.26" x2="405.20" y2="95.10" stroke="#333" stroke-width="0.7"/>
<line x1="384.00" y1="66.01" x2="405.20" y2="66.71" stroke="#333" stroke-width="0.7"/>
<circle cx="384.00" cy="42.84" r="1.25" fill="#e0313c" stroke="none" stroke-width="1"/>
<circle cx="384.00" cy="43.71" r="1.25" fill="#e0313c" stroke="none" stroke-width="1"/>
<circle cx="384.00" cy="53.29" r="1.25" fill="#e0313c" stroke="none" stroke-width="1"/>
<circle cx="384.00" cy="60.78" r="1.25" fill="#e0313c" stroke="none" stroke-width="1"/>
<circle cx="384.00" cy="62.87" r="1.25" fill="#e0313c" stroke="none" stroke-width="1"/>
<circle cx="384.00" cy="64.97" r="1.25" fill="#e0313c" stroke="none" stroke-width="1"/>
<circle cx="384.00" cy="67.23" r="1.25" fill="#e0313c" stroke="none" stroke-width="1"/>
<circle cx="384.00" cy="68.97" r="1.25" fill="#e0313c" stroke="none" stroke-width="1"/>
<circle cx="384.00" cy="71.24" r="1.25" fill="#e0313c" stroke="none" stroke-width="1"/>
<circle cx="384.00" cy="73.33" r="1.25" fill="#e0313c" stroke="none" stroke-width="1"/>
<circle cx="384.00" cy="75.94" r="1.25" fill="#e0313c" stroke="none" stroke-width="1"/>
<circle cx="384.00" cy="78.21" r="1.25" fill="#e0313c" stroke="none" stroke-width="1"/>
<circle cx="384.00" cy="80.64" r="1.25" fill="#e0313c" stroke="none" stroke-width="1"/>
<circle cx="384.00" cy="87.26" r="1.25" fill="#e0313c" stroke="none" stroke-width="1"/>
<circle cx="384.00" cy="66.01" r="1.25" fill="#e0313c" stroke="none" stroke-width="1"/>
<circle cx="405.20" cy="52.94" r="1.25" fill="#e0313c" stroke="none" stroke-width="1"/>
<circle cx="405.20" cy="63.75" r="1.25" fill="#e0313c" stroke="none" stroke-width="1"/>
<circle cx="405.20" cy="68.10" r="1.25" fill="#e0313c" stroke="none" stroke-width="1"/>
<circle cx="405.20" cy="70.71" r="1.25" fill="#e0313c" stroke="none" stroke-width="1"/>
<circle cx="405.20" cy="72.46" r="1.25" fill="#e0313c" stroke="none" stroke-width="1"/>
<circle cx="405.20" cy="74.20" r="1.25" fill="#e0313c" stroke="none" stroke-width="1"/>
<circle cx="405.20" cy="76.81" r="1.25" fill="#e0313c" stroke="none" stroke-width="1"/>
<circle cx="405.20" cy="80.30" r="1.25" fill="#e0313c" stroke="none" stroke-width="1"/>
<circle cx="405.20" cy="82.91" r="1.25" fill="#e0313c" stroke="none" stroke-width="1"/>
<circle cx="405.20" cy="89.88" r="1.25" fill="#e0313c" stroke="none" stroke-width="1"/>
<circle cx="405.20" cy="95.10" r="1.25" fill="#e0313c" stroke="none" stroke-width="1"/>
<circle cx="405.20" cy="103.82" r="1.25" fill="#e0313c" stroke="none" stroke-width="1"/>
<circle cx="405.20" cy="66.71" r="1.25" fill="#e0313c" stroke="none" stroke-width="1"/>
<line x1="450.00" y1="39.70" x2="450.00" y2="115.10" stroke="#000" stroke-width="1.1"/>
<line x1="449.50" y1="114.60" x2="499.60" y2="114.60" stroke="#000" stroke-width="1.1"/>
<line x1="447.20" y1="40.20" x2="450.00" y2="40.20" stroke="#000" stroke-width="1"/>
<text x="445.60" y="42.13" font-size="5.6" font-weight="bold" text-anchor="end" fill="#000" stroke="#000" stroke-width="0.18">1</text>
<line x1="447.20" y1="58.80" x2="450.00" y2="58.80" stroke="#000" stroke-width="1"/>
<text x="445.60" y="60.73" font-size="5.6" font-weight="bold" text-anchor="end" fill="#000" stroke="#000" stroke-width="0.18">0.1</text>
<line x1="447.20" y1="77.40" x2="450.00" y2="77.40" stroke="#000" stroke-width="1"/>
<text x="445.60" y="79.33" font-size="5.6" font-weight="bold" text-anchor="end" fill="#000" stroke="#000" stroke-width="0.18">0.01</text>
<line x1="447.20" y1="96.00" x2="450.00" y2="96.00" stroke="#000" stroke-width="1"/>
<text x="445.60" y="97.93" font-size="5.6" font-weight="bold" text-anchor="end" fill="#000" stroke="#000" stroke-width="0.18">0.001</text>
<line x1="447.20" y1="114.60" x2="450.00" y2="114.60" stroke="#000" stroke-width="1"/>
<text x="445.60" y="116.53" font-size="5.6" font-weight="bold" text-anchor="end" fill="#000" stroke="#000" stroke-width="0.18">0.0001</text>
<line x1="464.00" y1="114.60" x2="464.00" y2="117.10" stroke="#000" stroke-width="1"/>
<line x1="485.70" y1="114.60" x2="485.70" y2="117.10" stroke="#000" stroke-width="1"/>
<text x="474.35" y="30.91" font-size="7.6" font-weight="bold" text-anchor="middle" fill="#000" textLength="38.00" lengthAdjust="spacingAndGlyphs" stroke="#000" stroke-width="0.32">Total MDSC</text>
<text x="474.85" y="40.04" font-size="6.8" font-weight="normal" text-anchor="middle" fill="#333">ns</text>
<line x1="464.00" y1="43.73" x2="485.70" y2="64.43" stroke="#444" stroke-width="0.7"/>
<line x1="464.00" y1="62.79" x2="485.70" y2="80.20" stroke="#444" stroke-width="0.7"/>
<line x1="464.00" y1="70.37" x2="485.70" y2="78.57" stroke="#444" stroke-width="0.7"/>
<line x1="464.00" y1="78.16" x2="485.70" y2="82.87" stroke="#444" stroke-width="0.7"/>
<line x1="464.00" y1="85.74" x2="485.70" y2="72.01" stroke="#444" stroke-width="0.7"/>
<line x1="464.00" y1="87.38" x2="485.70" y2="84.30" stroke="#444" stroke-width="0.7"/>
<circle cx="464.00" cy="43.73" r="1.25" fill="#2a3a8c" stroke="none" stroke-width="1"/>
<circle cx="464.00" cy="62.79" r="1.25" fill="#2a3a8c" stroke="none" stroke-width="1"/>
<circle cx="464.00" cy="70.37" r="1.25" fill="#2a3a8c" stroke="none" stroke-width="1"/>
<circle cx="464.00" cy="78.16" r="1.25" fill="#2a3a8c" stroke="none" stroke-width="1"/>
<circle cx="464.00" cy="85.74" r="1.25" fill="#2a3a8c" stroke="none" stroke-width="1"/>
<circle cx="464.00" cy="87.38" r="1.25" fill="#2a3a8c" stroke="none" stroke-width="1"/>
<circle cx="485.70" cy="64.43" r="1.25" fill="#2a3a8c" stroke="none" stroke-width="1"/>
<circle cx="485.70" cy="72.01" r="1.25" fill="#2a3a8c" stroke="none" stroke-width="1"/>
<circle cx="485.70" cy="78.57" r="1.25" fill="#2a3a8c" stroke="none" stroke-width="1"/>
<circle cx="485.70" cy="80.20" r="1.25" fill="#2a3a8c" stroke="none" stroke-width="1"/>
<circle cx="485.70" cy="82.87" r="1.25" fill="#2a3a8c" stroke="none" stroke-width="1"/>
<circle cx="485.70" cy="84.30" r="1.25" fill="#2a3a8c" stroke="none" stroke-width="1"/>
<text x="262.60" y="79.77" font-size="6.6" font-weight="bold" text-anchor="middle" fill="#000" textLength="66.00" lengthAdjust="spacingAndGlyphs" transform="rotate(-90 262.60 77.50)" stroke="#000" stroke-width="0.1">Number of cells x 10<tspan font-size="4.4" dy="-2.3">7</tspan><tspan dy="2.3">/L</tspan></text>
<line x1="289.80" y1="136.40" x2="289.80" y2="212.00" stroke="#000" stroke-width="1.1"/>
<line x1="289.30" y1="211.50" x2="339.50" y2="211.50" stroke="#000" stroke-width="1.1"/>
<line x1="287.00" y1="136.90" x2="289.80" y2="136.90" stroke="#000" stroke-width="1"/>
<text x="285.40" y="138.83" font-size="5.6" font-weight="bold" text-anchor="end" fill="#000" stroke="#000" stroke-width="0.18">1</text>
<line x1="287.00" y1="155.55" x2="289.80" y2="155.55" stroke="#000" stroke-width="1"/>
<text x="285.40" y="157.48" font-size="5.6" font-weight="bold" text-anchor="end" fill="#000" stroke="#000" stroke-width="0.18">0.1</text>
<line x1="287.00" y1="174.20" x2="289.80" y2="174.20" stroke="#000" stroke-width="1"/>
<text x="285.40" y="176.13" font-size="5.6" font-weight="bold" text-anchor="end" fill="#000" stroke="#000" stroke-width="0.18">0.01</text>
<line x1="287.00" y1="192.85" x2="289.80" y2="192.85" stroke="#000" stroke-width="1"/>
<text x="285.40" y="194.78" font-size="5.6" font-weight="bold" text-anchor="end" fill="#000" stroke="#000" stroke-width="0.18">0.001</text>
<line x1="287.00" y1="211.50" x2="289.80" y2="211.50" stroke="#000" stroke-width="1"/>
<text x="285.40" y="213.43" font-size="5.6" font-weight="bold" text-anchor="end" fill="#000" stroke="#000" stroke-width="0.18">0.0001</text>
<line x1="304.20" y1="211.50" x2="304.20" y2="214.00" stroke="#000" stroke-width="1"/>
<line x1="325.70" y1="211.50" x2="325.70" y2="214.00" stroke="#000" stroke-width="1"/>
<text x="314.95" y="127.11" font-size="7.6" font-weight="bold" text-anchor="middle" fill="#000" textLength="39.00" lengthAdjust="spacingAndGlyphs" stroke="#000" stroke-width="0.32">PMN-MDSC</text>
<text x="314.95" y="137.74" font-size="6.8" font-weight="normal" text-anchor="middle" fill="#333">ns</text>
<line x1="304.20" y1="146.52" x2="325.70" y2="148.57" stroke="#222" stroke-width="0.7"/>
<line x1="304.20" y1="150.61" x2="325.70" y2="148.57" stroke="#222" stroke-width="0.7"/>
<line x1="304.20" y1="145.08" x2="325.70" y2="153.69" stroke="#222" stroke-width="0.7"/>
<line x1="304.20" y1="157.79" x2="325.70" y2="155.33" stroke="#222" stroke-width="0.7"/>
<line x1="304.20" y1="163.93" x2="325.70" y2="159.84" stroke="#222" stroke-width="0.7"/>
<line x1="304.20" y1="154.71" x2="325.70" y2="159.84" stroke="#222" stroke-width="0.7"/>
<line x1="304.20" y1="171.11" x2="325.70" y2="165.98" stroke="#222" stroke-width="0.7"/>
<line x1="304.20" y1="148.57" x2="325.70" y2="168.03" stroke="#222" stroke-width="0.7"/>
<line x1="304.20" y1="151.64" x2="325.70" y2="171.11" stroke="#222" stroke-width="0.7"/>
<line x1="304.20" y1="173.16" x2="325.70" y2="174.18" stroke="#222" stroke-width="0.7"/>
<line x1="304.20" y1="162.91" x2="325.70" y2="174.18" stroke="#222" stroke-width="0.7"/>
<line x1="304.20" y1="169.06" x2="325.70" y2="175.20" stroke="#222" stroke-width="0.7"/>
<line x1="304.20" y1="178.69" x2="325.70" y2="178.28" stroke="#222" stroke-width="0.7"/>
<line x1="304.20" y1="176.23" x2="325.70" y2="182.38" stroke="#222" stroke-width="0.7"/>
<line x1="304.20" y1="181.35" x2="325.70" y2="182.38" stroke="#222" stroke-width="0.7"/>
<line x1="304.20" y1="198.77" x2="325.70" y2="184.43" stroke="#222" stroke-width="0.7"/>
<line x1="304.20" y1="193.65" x2="325.70" y2="186.48" stroke="#222" stroke-width="0.7"/>
<line x1="304.20" y1="177.25" x2="325.70" y2="188.52" stroke="#222" stroke-width="0.7"/>
<line x1="304.20" y1="184.43" x2="325.70" y2="190.57" stroke="#222" stroke-width="0.7"/>
<line x1="304.20" y1="190.57" x2="325.70" y2="190.57" stroke="#222" stroke-width="0.7"/>
<line x1="304.20" y1="187.50" x2="325.70" y2="191.60" stroke="#222" stroke-width="0.7"/>
<line x1="304.20" y1="196.72" x2="325.70" y2="199.80" stroke="#222" stroke-width="0.7"/>
<line x1="304.20" y1="206.97" x2="325.70" y2="202.87" stroke="#222" stroke-width="0.7"/>
<circle cx="304.20" cy="145.08" r="1.25" fill="#000" stroke="none" stroke-width="1"/>
<circle cx="304.20" cy="146.52" r="1.25" fill="#000" stroke="none" stroke-width="1"/>
<circle cx="304.20" cy="148.57" r="1.25" fill="#000" stroke="none" stroke-width="1"/>
<circle cx="304.20" cy="150.61" r="1.25" fill="#000" stroke="none" stroke-width="1"/>
<circle cx="304.20" cy="151.64" r="1.25" fill="#000" stroke="none" stroke-width="1"/>
<circle cx="304.20" cy="154.71" r="1.25" fill="#000" stroke="none" stroke-width="1"/>
<circle cx="304.20" cy="157.79" r="1.25" fill="#000" stroke="none" stroke-width="1"/>
<circle cx="304.20" cy="162.91" r="1.25" fill="#000" stroke="none" stroke-width="1"/>
<circle cx="304.20" cy="163.93" r="1.25" fill="#000" stroke="none" stroke-width="1"/>
<circle cx="304.20" cy="169.06" r="1.25" fill="#000" stroke="none" stroke-width="1"/>
<circle cx="304.20" cy="171.11" r="1.25" fill="#000" stroke="none" stroke-width="1"/>
<circle cx="304.20" cy="173.16" r="1.25" fill="#000" stroke="none" stroke-width="1"/>
<circle cx="304.20" cy="176.23" r="1.25" fill="#000" stroke="none" stroke-width="1"/>
<circle cx="304.20" cy="177.25" r="1.25" fill="#000" stroke="none" stroke-width="1"/>
<circle cx="304.20" cy="178.69" r="1.25" fill="#000" stroke="none" stroke-width="1"/>
<circle cx="304.20" cy="181.35" r="1.25" fill="#000" stroke="none" stroke-width="1"/>
<circle cx="304.20" cy="184.43" r="1.25" fill="#000" stroke="none" stroke-width="1"/>
<circle cx="304.20" cy="187.50" r="1.25" fill="#000" stroke="none" stroke-width="1"/>
<circle cx="304.20" cy="190.57" r="1.25" fill="#000" stroke="none" stroke-width="1"/>
<circle cx="304.20" cy="193.65" r="1.25" fill="#000" stroke="none" stroke-width="1"/>
<circle cx="304.20" cy="196.72" r="1.25" fill="#000" stroke="none" stroke-width="1"/>
<circle cx="304.20" cy="198.77" r="1.25" fill="#000" stroke="none" stroke-width="1"/>
<circle cx="304.20" cy="206.97" r="1.25" fill="#000" stroke="none" stroke-width="1"/>
<circle cx="325.70" cy="148.57" r="1.25" fill="#000" stroke="none" stroke-width="1"/>
<circle cx="325.70" cy="153.69" r="1.25" fill="#000" stroke="none" stroke-width="1"/>
<circle cx="325.70" cy="155.33" r="1.25" fill="#000" stroke="none" stroke-width="1"/>
<circle cx="325.70" cy="159.84" r="1.25" fill="#000" stroke="none" stroke-width="1"/>
<circle cx="325.70" cy="165.98" r="1.25" fill="#000" stroke="none" stroke-width="1"/>
<circle cx="325.70" cy="168.03" r="1.25" fill="#000" stroke="none" stroke-width="1"/>
<circle cx="325.70" cy="171.11" r="1.25" fill="#000" stroke="none" stroke-width="1"/>
<circle cx="325.70" cy="174.18" r="1.25" fill="#000" stroke="none" stroke-width="1"/>
<circle cx="325.70" cy="175.20" r="1.25" fill="#000" stroke="none" stroke-width="1"/>
<circle cx="325.70" cy="178.28" r="1.25" fill="#000" stroke="none" stroke-width="1"/>
<circle cx="325.70" cy="182.38" r="1.25" fill="#000" stroke="none" stroke-width="1"/>
<circle cx="325.70" cy="184.43" r="1.25" fill="#000" stroke="none" stroke-width="1"/>
<circle cx="325.70" cy="186.48" r="1.25" fill="#000" stroke="none" stroke-width="1"/>
<circle cx="325.70" cy="188.52" r="1.25" fill="#000" stroke="none" stroke-width="1"/>
<circle cx="325.70" cy="190.57" r="1.25" fill="#000" stroke="none" stroke-width="1"/>
<circle cx="325.70" cy="191.60" r="1.25" fill="#000" stroke="none" stroke-width="1"/>
<circle cx="325.70" cy="199.80" r="1.25" fill="#000" stroke="none" stroke-width="1"/>
<circle cx="325.70" cy="202.87" r="1.25" fill="#000" stroke="none" stroke-width="1"/>
<line x1="369.70" y1="136.40" x2="369.70" y2="212.00" stroke="#000" stroke-width="1.1"/>
<line x1="369.20" y1="211.50" x2="419.50" y2="211.50" stroke="#000" stroke-width="1.1"/>
<line x1="366.90" y1="136.90" x2="369.70" y2="136.90" stroke="#000" stroke-width="1"/>
<text x="365.30" y="138.83" font-size="5.6" font-weight="bold" text-anchor="end" fill="#000" stroke="#000" stroke-width="0.18">1</text>
<line x1="366.90" y1="155.55" x2="369.70" y2="155.55" stroke="#000" stroke-width="1"/>
<text x="365.30" y="157.48" font-size="5.6" font-weight="bold" text-anchor="end" fill="#000" stroke="#000" stroke-width="0.18">0.1</text>
<line x1="366.90" y1="174.20" x2="369.70" y2="174.20" stroke="#000" stroke-width="1"/>
<text x="365.30" y="176.13" font-size="5.6" font-weight="bold" text-anchor="end" fill="#000" stroke="#000" stroke-width="0.18">0.01</text>
<line x1="366.90" y1="192.85" x2="369.70" y2="192.85" stroke="#000" stroke-width="1"/>
<text x="365.30" y="194.78" font-size="5.6" font-weight="bold" text-anchor="end" fill="#000" stroke="#000" stroke-width="0.18">0.001</text>
<line x1="366.90" y1="211.50" x2="369.70" y2="211.50" stroke="#000" stroke-width="1"/>
<text x="365.30" y="213.43" font-size="5.6" font-weight="bold" text-anchor="end" fill="#000" stroke="#000" stroke-width="0.18">0.0001</text>
<line x1="384.00" y1="211.50" x2="384.00" y2="214.00" stroke="#000" stroke-width="1"/>
<line x1="405.20" y1="211.50" x2="405.20" y2="214.00" stroke="#000" stroke-width="1"/>
<text x="394.60" y="127.11" font-size="7.6" font-weight="bold" text-anchor="middle" fill="#000" textLength="39.00" lengthAdjust="spacingAndGlyphs" stroke="#000" stroke-width="0.32">PMN-MDSC</text>
<text x="394.90" y="136.50" font-size="6.4" font-weight="normal" text-anchor="middle" fill="#222" textLength="28.20" lengthAdjust="spacingAndGlyphs"><tspan font-style="italic">P</tspan> = 0.0067</text>
<line x1="384.00" y1="144.81" x2="405.20" y2="171.81" stroke="#333" stroke-width="0.7"/>
<line x1="384.00" y1="146.03" x2="405.20" y2="177.91" stroke="#333" stroke-width="0.7"/>
<line x1="384.00" y1="147.42" x2="405.20" y2="152.65" stroke="#333" stroke-width="0.7"/>
<line x1="384.00" y1="148.82" x2="405.20" y2="184.01" stroke="#333" stroke-width="0.7"/>
<line x1="384.00" y1="154.04" x2="405.20" y2="158.75" stroke="#333" stroke-width="0.7"/>
<line x1="384.00" y1="162.23" x2="405.20" y2="174.43" stroke="#333" stroke-width="0.7"/>
<line x1="384.00" y1="163.45" x2="405.20" y2="170.07" stroke="#333" stroke-width="0.7"/>
<line x1="384.00" y1="168.33" x2="405.20" y2="165.71" stroke="#333" stroke-width="0.7"/>
<line x1="384.00" y1="170.42" x2="405.20" y2="190.10" stroke="#333" stroke-width="0.7"/>
<line x1="384.00" y1="173.55" x2="405.20" y2="167.46" stroke="#333" stroke-width="0.7"/>
<line x1="384.00" y1="177.91" x2="405.20" y2="185.75" stroke="#333" stroke-width="0.7"/>
<line x1="384.00" y1="178.78" x2="405.20" y2="171.81" stroke="#333" stroke-width="0.7"/>
<line x1="384.00" y1="182.61" x2="405.20" y2="190.10" stroke="#333" stroke-width="0.7"/>
<line x1="384.00" y1="195.85" x2="405.20" y2="199.34" stroke="#333" stroke-width="0.7"/>
<line x1="384.00" y1="197.07" x2="405.20" y2="202.30" stroke="#333" stroke-width="0.7"/>
<circle cx="384.00" cy="144.81" r="1.25" fill="#e0313c" stroke="none" stroke-width="1"/>
<circle cx="384.00" cy="146.03" r="1.25" fill="#e0313c" stroke="none" stroke-width="1"/>
<circle cx="384.00" cy="147.42" r="1.25" fill="#e0313c" stroke="none" stroke-width="1"/>
<circle cx="384.00" cy="148.82" r="1.25" fill="#e0313c" stroke="none" stroke-width="1"/>
<circle cx="384.00" cy="154.04" r="1.25" fill="#e0313c" stroke="none" stroke-width="1"/>
<circle cx="384.00" cy="162.23" r="1.25" fill="#e0313c" stroke="none" stroke-width="1"/>
<circle cx="384.00" cy="163.45" r="1.25" fill="#e0313c" stroke="none" stroke-width="1"/>
<circle cx="384.00" cy="168.33" r="1.25" fill="#e0313c" stroke="none" stroke-width="1"/>
<circle cx="384.00" cy="170.42" r="1.25" fill="#e0313c" stroke="none" stroke-width="1"/>
<circle cx="384.00" cy="173.55" r="1.25" fill="#e0313c" stroke="none" stroke-width="1"/>
<circle cx="384.00" cy="177.91" r="1.25" fill="#e0313c" stroke="none" stroke-width="1"/>
<circle cx="384.00" cy="178.78" r="1.25" fill="#e0313c" stroke="none" stroke-width="1"/>
<circle cx="384.00" cy="182.61" r="1.25" fill="#e0313c" stroke="none" stroke-width="1"/>
<circle cx="384.00" cy="195.85" r="1.25" fill="#e0313c" stroke="none" stroke-width="1"/>
<circle cx="384.00" cy="197.07" r="1.25" fill="#e0313c" stroke="none" stroke-width="1"/>
<circle cx="405.20" cy="152.65" r="1.25" fill="#e0313c" stroke="none" stroke-width="1"/>
<circle cx="405.20" cy="158.75" r="1.25" fill="#e0313c" stroke="none" stroke-width="1"/>
<circle cx="405.20" cy="165.71" r="1.25" fill="#e0313c" stroke="none" stroke-width="1"/>
<circle cx="405.20" cy="167.46" r="1.25" fill="#e0313c" stroke="none" stroke-width="1"/>
<circle cx="405.20" cy="170.07" r="1.25" fill="#e0313c" stroke="none" stroke-width="1"/>
<circle cx="405.20" cy="171.81" r="1.25" fill="#e0313c" stroke="none" stroke-width="1"/>
<circle cx="405.20" cy="174.43" r="1.25" fill="#e0313c" stroke="none" stroke-width="1"/>
<circle cx="405.20" cy="177.91" r="1.25" fill="#e0313c" stroke="none" stroke-width="1"/>
<circle cx="405.20" cy="184.01" r="1.25" fill="#e0313c" stroke="none" stroke-width="1"/>
<circle cx="405.20" cy="185.75" r="1.25" fill="#e0313c" stroke="none" stroke-width="1"/>
<circle cx="405.20" cy="190.10" r="1.25" fill="#e0313c" stroke="none" stroke-width="1"/>
<circle cx="405.20" cy="199.34" r="1.25" fill="#e0313c" stroke="none" stroke-width="1"/>
<circle cx="405.20" cy="202.30" r="1.25" fill="#e0313c" stroke="none" stroke-width="1"/>
<line x1="450.00" y1="136.40" x2="450.00" y2="212.00" stroke="#000" stroke-width="1.1"/>
<line x1="449.50" y1="211.50" x2="499.60" y2="211.50" stroke="#000" stroke-width="1.1"/>
<line x1="447.20" y1="136.90" x2="450.00" y2="136.90" stroke="#000" stroke-width="1"/>
<text x="445.60" y="138.83" font-size="5.6" font-weight="bold" text-anchor="end" fill="#000" stroke="#000" stroke-width="0.18">1</text>
<line x1="447.20" y1="155.55" x2="450.00" y2="155.55" stroke="#000" stroke-width="1"/>
<text x="445.60" y="157.48" font-size="5.6" font-weight="bold" text-anchor="end" fill="#000" stroke="#000" stroke-width="0.18">0.1</text>
<line x1="447.20" y1="174.20" x2="450.00" y2="174.20" stroke="#000" stroke-width="1"/>
<text x="445.60" y="176.13" font-size="5.6" font-weight="bold" text-anchor="end" fill="#000" stroke="#000" stroke-width="0.18">0.01</text>
<line x1="447.20" y1="192.85" x2="450.00" y2="192.85" stroke="#000" stroke-width="1"/>
<text x="445.60" y="194.78" font-size="5.6" font-weight="bold" text-anchor="end" fill="#000" stroke="#000" stroke-width="0.18">0.001</text>
<line x1="447.20" y1="211.50" x2="450.00" y2="211.50" stroke="#000" stroke-width="1"/>
<text x="445.60" y="213.43" font-size="5.6" font-weight="bold" text-anchor="end" fill="#000" stroke="#000" stroke-width="0.18">0.0001</text>
<line x1="464.00" y1="211.50" x2="464.00" y2="214.00" stroke="#000" stroke-width="1"/>
<line x1="485.70" y1="211.50" x2="485.70" y2="214.00" stroke="#000" stroke-width="1"/>
<text x="474.35" y="127.11" font-size="7.6" font-weight="bold" text-anchor="middle" fill="#000" textLength="39.00" lengthAdjust="spacingAndGlyphs" stroke="#000" stroke-width="0.32">PMN-MDSC</text>
<text x="474.85" y="137.74" font-size="6.8" font-weight="normal" text-anchor="middle" fill="#333">ns</text>
<line x1="464.00" y1="157.66" x2="485.70" y2="148.23" stroke="#444" stroke-width="0.7"/>
<line x1="464.00" y1="167.89" x2="485.70" y2="155.23" stroke="#444" stroke-width="0.7"/>
<line x1="464.00" y1="177.85" x2="485.70" y2="191.31" stroke="#444" stroke-width="0.7"/>
<line x1="464.00" y1="189.97" x2="485.70" y2="182.70" stroke="#444" stroke-width="0.7"/>
<line x1="464.00" y1="193.47" x2="485.70" y2="174.08" stroke="#444" stroke-width="0.7"/>
<line x1="464.00" y1="206.39" x2="485.70" y2="186.20" stroke="#444" stroke-width="0.7"/>
<circle cx="464.00" cy="157.66" r="1.25" fill="#2a3a8c" stroke="none" stroke-width="1"/>
<circle cx="464.00" cy="167.89" r="1.25" fill="#2a3a8c" stroke="none" stroke-width="1"/>
<circle cx="464.00" cy="177.85" r="1.25" fill="#2a3a8c" stroke="none" stroke-width="1"/>
<circle cx="464.00" cy="189.97" r="1.25" fill="#2a3a8c" stroke="none" stroke-width="1"/>
<circle cx="464.00" cy="193.47" r="1.25" fill="#2a3a8c" stroke="none" stroke-width="1"/>
<circle cx="464.00" cy="206.39" r="1.25" fill="#2a3a8c" stroke="none" stroke-width="1"/>
<circle cx="485.70" cy="148.23" r="1.25" fill="#2a3a8c" stroke="none" stroke-width="1"/>
<circle cx="485.70" cy="155.23" r="1.25" fill="#2a3a8c" stroke="none" stroke-width="1"/>
<circle cx="485.70" cy="174.08" r="1.25" fill="#2a3a8c" stroke="none" stroke-width="1"/>
<circle cx="485.70" cy="182.70" r="1.25" fill="#2a3a8c" stroke="none" stroke-width="1"/>
<circle cx="485.70" cy="186.20" r="1.25" fill="#2a3a8c" stroke="none" stroke-width="1"/>
<circle cx="485.70" cy="191.31" r="1.25" fill="#2a3a8c" stroke="none" stroke-width="1"/>
<text x="262.60" y="176.57" font-size="6.6" font-weight="bold" text-anchor="middle" fill="#000" textLength="66.00" lengthAdjust="spacingAndGlyphs" transform="rotate(-90 262.60 174.30)" stroke="#000" stroke-width="0.1">Number of cells x 10<tspan font-size="4.4" dy="-2.3">7</tspan><tspan dy="2.3">/L</tspan></text>
<line x1="289.80" y1="231.50" x2="289.80" y2="306.80" stroke="#000" stroke-width="1.1"/>
<line x1="289.30" y1="306.30" x2="339.50" y2="306.30" stroke="#000" stroke-width="1.1"/>
<line x1="287.00" y1="232.00" x2="289.80" y2="232.00" stroke="#000" stroke-width="1"/>
<text x="285.40" y="233.93" font-size="5.6" font-weight="bold" text-anchor="end" fill="#000" stroke="#000" stroke-width="0.18">1</text>
<line x1="287.00" y1="250.57" x2="289.80" y2="250.57" stroke="#000" stroke-width="1"/>
<text x="285.40" y="252.50" font-size="5.6" font-weight="bold" text-anchor="end" fill="#000" stroke="#000" stroke-width="0.18">0.1</text>
<line x1="287.00" y1="269.15" x2="289.80" y2="269.15" stroke="#000" stroke-width="1"/>
<text x="285.40" y="271.08" font-size="5.6" font-weight="bold" text-anchor="end" fill="#000" stroke="#000" stroke-width="0.18">0.01</text>
<line x1="287.00" y1="287.73" x2="289.80" y2="287.73" stroke="#000" stroke-width="1"/>
<text x="285.40" y="289.65" font-size="5.6" font-weight="bold" text-anchor="end" fill="#000" stroke="#000" stroke-width="0.18">0.001</text>
<line x1="287.00" y1="306.30" x2="289.80" y2="306.30" stroke="#000" stroke-width="1"/>
<text x="285.40" y="308.23" font-size="5.6" font-weight="bold" text-anchor="end" fill="#000" stroke="#000" stroke-width="0.18">0.0001</text>
<line x1="304.20" y1="306.30" x2="304.20" y2="308.80" stroke="#000" stroke-width="1"/>
<line x1="325.70" y1="306.30" x2="325.70" y2="308.80" stroke="#000" stroke-width="1"/>
<text x="314.95" y="222.11" font-size="7.6" font-weight="bold" text-anchor="middle" fill="#000" textLength="34.30" lengthAdjust="spacingAndGlyphs" stroke="#000" stroke-width="0.32">MO-MDSC</text>
<text x="314.95" y="232.94" font-size="6.8" font-weight="normal" text-anchor="middle" fill="#333">ns</text>
<line x1="304.20" y1="257.19" x2="325.70" y2="256.32" stroke="#222" stroke-width="0.7"/>
<line x1="304.20" y1="258.92" x2="325.70" y2="256.32" stroke="#222" stroke-width="0.7"/>
<line x1="304.20" y1="255.67" x2="325.70" y2="258.49" stroke="#222" stroke-width="0.7"/>
<line x1="304.20" y1="261.10" x2="325.70" y2="261.10" stroke="#222" stroke-width="0.7"/>
<line x1="304.20" y1="264.35" x2="325.70" y2="263.27" stroke="#222" stroke-width="0.7"/>
<line x1="304.20" y1="273.04" x2="325.70" y2="265.44" stroke="#222" stroke-width="0.7"/>
<line x1="304.20" y1="275.21" x2="325.70" y2="268.05" stroke="#222" stroke-width="0.7"/>
<line x1="304.20" y1="269.78" x2="325.70" y2="269.78" stroke="#222" stroke-width="0.7"/>
<line x1="304.20" y1="266.53" x2="325.70" y2="271.52" stroke="#222" stroke-width="0.7"/>
<line x1="304.20" y1="278.91" x2="325.70" y2="274.13" stroke="#222" stroke-width="0.7"/>
<line x1="304.20" y1="262.83" x2="325.70" y2="276.30" stroke="#222" stroke-width="0.7"/>
<line x1="304.20" y1="268.05" x2="325.70" y2="278.91" stroke="#222" stroke-width="0.7"/>
<line x1="304.20" y1="271.52" x2="325.70" y2="281.73" stroke="#222" stroke-width="0.7"/>
<line x1="304.20" y1="285.42" x2="325.70" y2="284.99" stroke="#222" stroke-width="0.7"/>
<line x1="304.20" y1="283.90" x2="325.70" y2="289.33" stroke="#222" stroke-width="0.7"/>
<line x1="304.20" y1="281.73" x2="325.70" y2="296.93" stroke="#222" stroke-width="0.7"/>
<circle cx="304.20" cy="255.67" r="1.25" fill="#000" stroke="none" stroke-width="1"/>
<circle cx="304.20" cy="257.19" r="1.25" fill="#000" stroke="none" stroke-width="1"/>
<circle cx="304.20" cy="258.92" r="1.25" fill="#000" stroke="none" stroke-width="1"/>
<circle cx="304.20" cy="261.10" r="1.25" fill="#000" stroke="none" stroke-width="1"/>
<circle cx="304.20" cy="262.83" r="1.25" fill="#000" stroke="none" stroke-width="1"/>
<circle cx="304.20" cy="264.35" r="1.25" fill="#000" stroke="none" stroke-width="1"/>
<circle cx="304.20" cy="266.53" r="1.25" fill="#000" stroke="none" stroke-width="1"/>
<circle cx="304.20" cy="268.05" r="1.25" fill="#000" stroke="none" stroke-width="1"/>
<circle cx="304.20" cy="269.78" r="1.25" fill="#000" stroke="none" stroke-width="1"/>
<circle cx="304.20" cy="271.52" r="1.25" fill="#000" stroke="none" stroke-width="1"/>
<circle cx="304.20" cy="273.04" r="1.25" fill="#000" stroke="none" stroke-width="1"/>
<circle cx="304.20" cy="275.21" r="1.25" fill="#000" stroke="none" stroke-width="1"/>
<circle cx="304.20" cy="278.91" r="1.25" fill="#000" stroke="none" stroke-width="1"/>
<circle cx="304.20" cy="281.73" r="1.25" fill="#000" stroke="none" stroke-width="1"/>
<circle cx="304.20" cy="283.90" r="1.25" fill="#000" stroke="none" stroke-width="1"/>
<circle cx="304.20" cy="285.42" r="1.25" fill="#000" stroke="none" stroke-width="1"/>
<circle cx="325.70" cy="256.32" r="1.25" fill="#000" stroke="none" stroke-width="1"/>
<circle cx="325.70" cy="258.49" r="1.25" fill="#000" stroke="none" stroke-width="1"/>
<circle cx="325.70" cy="261.10" r="1.25" fill="#000" stroke="none" stroke-width="1"/>
<circle cx="325.70" cy="263.27" r="1.25" fill="#000" stroke="none" stroke-width="1"/>
<circle cx="325.70" cy="265.44" r="1.25" fill="#000" stroke="none" stroke-width="1"/>
<circle cx="325.70" cy="268.05" r="1.25" fill="#000" stroke="none" stroke-width="1"/>
<circle cx="325.70" cy="269.78" r="1.25" fill="#000" stroke="none" stroke-width="1"/>
<circle cx="325.70" cy="271.52" r="1.25" fill="#000" stroke="none" stroke-width="1"/>
<circle cx="325.70" cy="274.13" r="1.25" fill="#000" stroke="none" stroke-width="1"/>
<circle cx="325.70" cy="276.30" r="1.25" fill="#000" stroke="none" stroke-width="1"/>
<circle cx="325.70" cy="278.91" r="1.25" fill="#000" stroke="none" stroke-width="1"/>
<circle cx="325.70" cy="281.73" r="1.25" fill="#000" stroke="none" stroke-width="1"/>
<circle cx="325.70" cy="284.99" r="1.25" fill="#000" stroke="none" stroke-width="1"/>
<circle cx="325.70" cy="289.33" r="1.25" fill="#000" stroke="none" stroke-width="1"/>
<circle cx="325.70" cy="296.93" r="1.25" fill="#000" stroke="none" stroke-width="1"/>
<line x1="369.70" y1="231.50" x2="369.70" y2="306.80" stroke="#000" stroke-width="1.1"/>
<line x1="369.20" y1="306.30" x2="419.50" y2="306.30" stroke="#000" stroke-width="1.1"/>
<line x1="366.90" y1="232.00" x2="369.70" y2="232.00" stroke="#000" stroke-width="1"/>
<text x="365.30" y="233.93" font-size="5.6" font-weight="bold" text-anchor="end" fill="#000" stroke="#000" stroke-width="0.18">1</text>
<line x1="366.90" y1="250.57" x2="369.70" y2="250.57" stroke="#000" stroke-width="1"/>
<text x="365.30" y="252.50" font-size="5.6" font-weight="bold" text-anchor="end" fill="#000" stroke="#000" stroke-width="0.18">0.1</text>
<line x1="366.90" y1="269.15" x2="369.70" y2="269.15" stroke="#000" stroke-width="1"/>
<text x="365.30" y="271.08" font-size="5.6" font-weight="bold" text-anchor="end" fill="#000" stroke="#000" stroke-width="0.18">0.01</text>
<line x1="366.90" y1="287.73" x2="369.70" y2="287.73" stroke="#000" stroke-width="1"/>
<text x="365.30" y="289.65" font-size="5.6" font-weight="bold" text-anchor="end" fill="#000" stroke="#000" stroke-width="0.18">0.001</text>
<line x1="366.90" y1="306.30" x2="369.70" y2="306.30" stroke="#000" stroke-width="1"/>
<text x="365.30" y="308.23" font-size="5.6" font-weight="bold" text-anchor="end" fill="#000" stroke="#000" stroke-width="0.18">0.0001</text>
<line x1="384.00" y1="306.30" x2="384.00" y2="308.80" stroke="#000" stroke-width="1"/>
<line x1="405.20" y1="306.30" x2="405.20" y2="308.80" stroke="#000" stroke-width="1"/>
<text x="394.60" y="222.11" font-size="7.6" font-weight="bold" text-anchor="middle" fill="#000" textLength="34.30" lengthAdjust="spacingAndGlyphs" stroke="#000" stroke-width="0.32">MO-MDSC</text>
<text x="394.60" y="232.94" font-size="6.8" font-weight="normal" text-anchor="middle" fill="#333">ns</text>
<line x1="384.00" y1="261.70" x2="405.20" y2="255.77" stroke="#333" stroke-width="0.7"/>
<line x1="384.00" y1="259.00" x2="405.20" y2="259.00" stroke="#333" stroke-width="0.7"/>
<line x1="384.00" y1="257.12" x2="405.20" y2="262.50" stroke="#333" stroke-width="0.7"/>
<line x1="384.00" y1="268.70" x2="405.20" y2="267.08" stroke="#333" stroke-width="0.7"/>
<line x1="384.00" y1="284.04" x2="405.20" y2="268.70" stroke="#333" stroke-width="0.7"/>
<line x1="384.00" y1="266.54" x2="405.20" y2="271.39" stroke="#333" stroke-width="0.7"/>
<line x1="384.00" y1="278.66" x2="405.20" y2="274.62" stroke="#333" stroke-width="0.7"/>
<line x1="384.00" y1="270.58" x2="405.20" y2="277.31" stroke="#333" stroke-width="0.7"/>
<line x1="384.00" y1="263.85" x2="405.20" y2="284.04" stroke="#333" stroke-width="0.7"/>
<line x1="384.00" y1="272.47" x2="405.20" y2="285.93" stroke="#333" stroke-width="0.7"/>
<line x1="384.00" y1="275.97" x2="405.20" y2="289.43" stroke="#333" stroke-width="0.7"/>
<line x1="384.00" y1="274.08" x2="405.20" y2="290.78" stroke="#333" stroke-width="0.7"/>
<line x1="384.00" y1="282.70" x2="405.20" y2="297.51" stroke="#333" stroke-width="0.7"/>
<circle cx="384.00" cy="257.12" r="1.25" fill="#e0313c" stroke="none" stroke-width="1"/>
<circle cx="384.00" cy="259.00" r="1.25" fill="#e0313c" stroke="none" stroke-width="1"/>
<circle cx="384.00" cy="261.70" r="1.25" fill="#e0313c" stroke="none" stroke-width="1"/>
<circle cx="384.00" cy="263.85" r="1.25" fill="#e0313c" stroke="none" stroke-width="1"/>
<circle cx="384.00" cy="266.54" r="1.25" fill="#e0313c" stroke="none" stroke-width="1"/>
<circle cx="384.00" cy="268.70" r="1.25" fill="#e0313c" stroke="none" stroke-width="1"/>
<circle cx="384.00" cy="270.58" r="1.25" fill="#e0313c" stroke="none" stroke-width="1"/>
<circle cx="384.00" cy="272.47" r="1.25" fill="#e0313c" stroke="none" stroke-width="1"/>
<circle cx="384.00" cy="274.08" r="1.25" fill="#e0313c" stroke="none" stroke-width="1"/>
<circle cx="384.00" cy="275.97" r="1.25" fill="#e0313c" stroke="none" stroke-width="1"/>
<circle cx="384.00" cy="278.66" r="1.25" fill="#e0313c" stroke="none" stroke-width="1"/>
<circle cx="384.00" cy="282.70" r="1.25" fill="#e0313c" stroke="none" stroke-width="1"/>
<circle cx="384.00" cy="284.04" r="1.25" fill="#e0313c" stroke="none" stroke-width="1"/>
<circle cx="405.20" cy="255.77" r="1.25" fill="#e0313c" stroke="none" stroke-width="1"/>
<circle cx="405.20" cy="259.00" r="1.25" fill="#e0313c" stroke="none" stroke-width="1"/>
<circle cx="405.20" cy="262.50" r="1.25" fill="#e0313c" stroke="none" stroke-width="1"/>
<circle cx="405.20" cy="267.08" r="1.25" fill="#e0313c" stroke="none" stroke-width="1"/>
<circle cx="405.20" cy="268.70" r="1.25" fill="#e0313c" stroke="none" stroke-width="1"/>
<circle cx="405.20" cy="271.39" r="1.25" fill="#e0313c" stroke="none" stroke-width="1"/>
<circle cx="405.20" cy="274.62" r="1.25" fill="#e0313c" stroke="none" stroke-width="1"/>
<circle cx="405.20" cy="277.31" r="1.25" fill="#e0313c" stroke="none" stroke-width="1"/>
<circle cx="405.20" cy="284.04" r="1.25" fill="#e0313c" stroke="none" stroke-width="1"/>
<circle cx="405.20" cy="285.93" r="1.25" fill="#e0313c" stroke="none" stroke-width="1"/>
<circle cx="405.20" cy="289.43" r="1.25" fill="#e0313c" stroke="none" stroke-width="1"/>
<circle cx="405.20" cy="290.78" r="1.25" fill="#e0313c" stroke="none" stroke-width="1"/>
<circle cx="405.20" cy="297.51" r="1.25" fill="#e0313c" stroke="none" stroke-width="1"/>
<line x1="450.00" y1="231.50" x2="450.00" y2="306.80" stroke="#000" stroke-width="1.1"/>
<line x1="449.50" y1="306.30" x2="499.60" y2="306.30" stroke="#000" stroke-width="1.1"/>
<line x1="447.20" y1="232.00" x2="450.00" y2="232.00" stroke="#000" stroke-width="1"/>
<text x="445.60" y="233.93" font-size="5.6" font-weight="bold" text-anchor="end" fill="#000" stroke="#000" stroke-width="0.18">1</text>
<line x1="447.20" y1="250.57" x2="450.00" y2="250.57" stroke="#000" stroke-width="1"/>
<text x="445.60" y="252.50" font-size="5.6" font-weight="bold" text-anchor="end" fill="#000" stroke="#000" stroke-width="0.18">0.1</text>
<line x1="447.20" y1="269.15" x2="450.00" y2="269.15" stroke="#000" stroke-width="1"/>
<text x="445.60" y="271.08" font-size="5.6" font-weight="bold" text-anchor="end" fill="#000" stroke="#000" stroke-width="0.18">0.01</text>
<line x1="447.20" y1="287.73" x2="450.00" y2="287.73" stroke="#000" stroke-width="1"/>
<text x="445.60" y="289.65" font-size="5.6" font-weight="bold" text-anchor="end" fill="#000" stroke="#000" stroke-width="0.18">0.001</text>
<line x1="447.20" y1="306.30" x2="450.00" y2="306.30" stroke="#000" stroke-width="1"/>
<text x="445.60" y="308.23" font-size="5.6" font-weight="bold" text-anchor="end" fill="#000" stroke="#000" stroke-width="0.18">0.0001</text>
<line x1="464.00" y1="306.30" x2="464.00" y2="308.80" stroke="#000" stroke-width="1"/>
<line x1="485.70" y1="306.30" x2="485.70" y2="308.80" stroke="#000" stroke-width="1"/>
<text x="474.35" y="222.11" font-size="7.6" font-weight="bold" text-anchor="middle" fill="#000" textLength="34.30" lengthAdjust="spacingAndGlyphs" stroke="#000" stroke-width="0.32">MO-MDSC</text>
<text x="474.85" y="241.34" font-size="6.8" font-weight="normal" text-anchor="middle" fill="#333">ns</text>
<line x1="464.00" y1="255.23" x2="485.70" y2="273.81" stroke="#444" stroke-width="0.7"/>
<line x1="464.00" y1="256.31" x2="485.70" y2="275.16" stroke="#444" stroke-width="0.7"/>
<line x1="464.00" y1="262.50" x2="485.70" y2="276.77" stroke="#444" stroke-width="0.7"/>
<line x1="464.00" y1="271.39" x2="485.70" y2="279.47" stroke="#444" stroke-width="0.7"/>
<line x1="464.00" y1="285.39" x2="485.70" y2="279.47" stroke="#444" stroke-width="0.7"/>
<circle cx="464.00" cy="255.23" r="1.25" fill="#2a3a8c" stroke="none" stroke-width="1"/>
<circle cx="464.00" cy="256.31" r="1.25" fill="#2a3a8c" stroke="none" stroke-width="1"/>
<circle cx="464.00" cy="262.50" r="1.25" fill="#2a3a8c" stroke="none" stroke-width="1"/>
<circle cx="464.00" cy="271.39" r="1.25" fill="#2a3a8c" stroke="none" stroke-width="1"/>
<circle cx="464.00" cy="285.39" r="1.25" fill="#2a3a8c" stroke="none" stroke-width="1"/>
<circle cx="485.70" cy="273.81" r="1.25" fill="#2a3a8c" stroke="none" stroke-width="1"/>
<circle cx="485.70" cy="275.16" r="1.25" fill="#2a3a8c" stroke="none" stroke-width="1"/>
<circle cx="485.70" cy="276.77" r="1.25" fill="#2a3a8c" stroke="none" stroke-width="1"/>
<circle cx="485.70" cy="279.47" r="1.25" fill="#2a3a8c" stroke="none" stroke-width="1"/>
<text x="262.60" y="271.52" font-size="6.6" font-weight="bold" text-anchor="middle" fill="#000" textLength="66.00" lengthAdjust="spacingAndGlyphs" transform="rotate(-90 262.60 269.25)" stroke="#000" stroke-width="0.1">Number of cells x 10<tspan font-size="4.4" dy="-2.3">7</tspan><tspan dy="2.3">/L</tspan></text>
<text x="304.20" y="316.47" font-size="6.3" font-weight="bold" text-anchor="middle" fill="#000" textLength="11.00" lengthAdjust="spacingAndGlyphs" stroke="#000" stroke-width="0.18">Pre-</text>
<text x="304.20" y="323.07" font-size="6.3" font-weight="bold" text-anchor="middle" fill="#000" stroke="#000" stroke-width="0.18">TX</text>
<text x="325.70" y="316.47" font-size="6.3" font-weight="bold" text-anchor="middle" fill="#000" textLength="13.00" lengthAdjust="spacingAndGlyphs" stroke="#000" stroke-width="0.18">Post-</text>
<text x="325.70" y="323.07" font-size="6.3" font-weight="bold" text-anchor="middle" fill="#000" stroke="#000" stroke-width="0.18">ATRA</text>
<text x="384.00" y="316.47" font-size="6.3" font-weight="bold" text-anchor="middle" fill="#000" textLength="11.00" lengthAdjust="spacingAndGlyphs" stroke="#000" stroke-width="0.18">Pre-</text>
<text x="384.00" y="323.07" font-size="6.3" font-weight="bold" text-anchor="middle" fill="#000" stroke="#000" stroke-width="0.18">TX</text>
<text x="405.20" y="316.47" font-size="6.3" font-weight="bold" text-anchor="middle" fill="#000" textLength="13.00" lengthAdjust="spacingAndGlyphs" stroke="#000" stroke-width="0.18">Post-</text>
<text x="405.20" y="323.07" font-size="6.3" font-weight="bold" text-anchor="middle" fill="#000" stroke="#000" stroke-width="0.18">ATRA</text>
<text x="464.00" y="316.47" font-size="6.3" font-weight="bold" text-anchor="middle" fill="#000" textLength="11.00" lengthAdjust="spacingAndGlyphs" stroke="#000" stroke-width="0.18">Pre-</text>
<text x="464.00" y="323.07" font-size="6.3" font-weight="bold" text-anchor="middle" fill="#000" stroke="#000" stroke-width="0.18">TX</text>
<text x="485.70" y="316.47" font-size="6.3" font-weight="bold" text-anchor="middle" fill="#000" textLength="13.00" lengthAdjust="spacingAndGlyphs" stroke="#000" stroke-width="0.18">Post-</text>
<text x="485.70" y="323.07" font-size="6.3" font-weight="bold" text-anchor="middle" fill="#000" stroke="#000" stroke-width="0.18">ATRA</text>
<text x="6.95" y="335.83" font-size="12.6" font-weight="bold" text-anchor="middle" fill="#000" stroke="#000" stroke-width="0.32">D</text>
<text x="70.00" y="339.76" font-size="8.6" font-weight="bold" text-anchor="middle" fill="#000" stroke="#000" stroke-width="0.32">Change in myeloid</text>
<text x="71.50" y="349.96" font-size="8.6" font-weight="bold" text-anchor="middle" fill="#000" stroke="#000" stroke-width="0.32">cell populations</text>
<line x1="36.60" y1="359.30" x2="36.60" y2="453.20" stroke="#000" stroke-width="1.2"/>
<line x1="36.00" y1="452.60" x2="132.80" y2="452.60" stroke="#000" stroke-width="1.2"/>
<line x1="32.60" y1="359.50" x2="36.60" y2="359.50" stroke="#000" stroke-width="1"/>
<text x="30.00" y="361.67" font-size="6.3" font-weight="bold" text-anchor="end" fill="#000" stroke="#000" stroke-width="0.18">1,500</text>
<line x1="32.60" y1="387.00" x2="36.60" y2="387.00" stroke="#000" stroke-width="1"/>
<text x="30.00" y="389.17" font-size="6.3" font-weight="bold" text-anchor="end" fill="#000" stroke="#000" stroke-width="0.18">1,000</text>
<line x1="32.60" y1="414.50" x2="36.60" y2="414.50" stroke="#000" stroke-width="1"/>
<text x="30.00" y="416.67" font-size="6.3" font-weight="bold" text-anchor="end" fill="#000" stroke="#000" stroke-width="0.18">500</text>
<line x1="32.60" y1="442.00" x2="36.60" y2="442.00" stroke="#000" stroke-width="1"/>
<text x="30.00" y="444.17" font-size="6.3" font-weight="bold" text-anchor="end" fill="#000" stroke="#000" stroke-width="0.18">0</text>
<text x="5.20" y="409.14" font-size="10.3" font-weight="normal" text-anchor="middle" fill="#000" transform="rotate(-90 5.20 405.60)" stroke="#000" stroke-width="0.05" textLength="91" lengthAdjust="spacingAndGlyphs">Percentage of change</text>
<line x1="46.10" y1="452.60" x2="46.10" y2="455.30" stroke="#000" stroke-width="1"/>
<text x="46.10" y="465.42" font-size="8.2" font-weight="normal" text-anchor="middle" fill="#000" stroke="#000" stroke-width="0.3">R</text>
<line x1="61.20" y1="452.60" x2="61.20" y2="455.30" stroke="#000" stroke-width="1"/>
<text x="61.20" y="465.42" font-size="8.2" font-weight="normal" text-anchor="middle" fill="#000" stroke="#000" stroke-width="0.3" textLength="10" lengthAdjust="spacingAndGlyphs">NR</text>
<line x1="76.00" y1="452.60" x2="76.00" y2="455.30" stroke="#000" stroke-width="1"/>
<text x="76.00" y="465.42" font-size="8.2" font-weight="normal" text-anchor="middle" fill="#000" stroke="#000" stroke-width="0.3">R</text>
<line x1="91.60" y1="452.60" x2="91.60" y2="455.30" stroke="#000" stroke-width="1"/>
<text x="91.60" y="465.42" font-size="8.2" font-weight="normal" text-anchor="middle" fill="#000" stroke="#000" stroke-width="0.3" textLength="10" lengthAdjust="spacingAndGlyphs">NR</text>
<line x1="106.90" y1="452.60" x2="106.90" y2="455.30" stroke="#000" stroke-width="1"/>
<text x="106.90" y="465.42" font-size="8.2" font-weight="normal" text-anchor="middle" fill="#000" stroke="#000" stroke-width="0.3">R</text>
<line x1="122.20" y1="452.60" x2="122.20" y2="455.30" stroke="#000" stroke-width="1"/>
<text x="122.20" y="465.42" font-size="8.2" font-weight="normal" text-anchor="middle" fill="#000" stroke="#000" stroke-width="0.3" textLength="10" lengthAdjust="spacingAndGlyphs">NR</text>
<line x1="45.80" y1="467.90" x2="63.10" y2="467.90" stroke="#555" stroke-width="0.9"/>
<line x1="76.40" y1="467.90" x2="92.70" y2="467.90" stroke="#555" stroke-width="0.9"/>
<line x1="107.20" y1="467.90" x2="123.30" y2="467.90" stroke="#555" stroke-width="0.9"/>
<text x="54.50" y="477.32" font-size="8.2" font-weight="normal" text-anchor="middle" fill="#000" textLength="17.3" lengthAdjust="spacingAndGlyphs">PMN</text>
<text x="84.20" y="477.32" font-size="8.2" font-weight="normal" text-anchor="middle" fill="#000" textLength="12.1" lengthAdjust="spacingAndGlyphs">MO</text>
<text x="116.70" y="477.32" font-size="8.2" font-weight="normal" text-anchor="middle" fill="#000" textLength="14.4" lengthAdjust="spacingAndGlyphs">DR+</text>
<line x1="47.00" y1="478.60" x2="90.00" y2="478.60" stroke="#555" stroke-width="0.9"/>
<text x="69.50" y="486.52" font-size="8.2" font-weight="normal" text-anchor="middle" fill="#000" textLength="21.9" lengthAdjust="spacingAndGlyphs">MDSC</text>
<line x1="44.60" y1="368.50" x2="60.60" y2="368.50" stroke="#444" stroke-width="0.8"/>
<text x="52.80" y="370.56" font-size="8.6" font-weight="bold" text-anchor="middle" fill="#000" stroke="#000" stroke-width="0.32">****</text>
<rect x="56.30" y="414.10" width="10.20" height="27.90" fill="none" stroke="#222" stroke-width="0.8"/>
<line x1="61.40" y1="404.20" x2="61.40" y2="414.10" stroke="#222" stroke-width="0.8"/>
<line x1="59.00" y1="404.20" x2="63.80" y2="404.20" stroke="#222" stroke-width="0.8"/>
<rect x="86.80" y="436.20" width="9.80" height="5.80" fill="none" stroke="#333" stroke-width="0.8"/>
<line x1="91.70" y1="430.70" x2="91.70" y2="436.20" stroke="#333" stroke-width="0.8"/>
<line x1="89.30" y1="430.70" x2="94.10" y2="430.70" stroke="#333" stroke-width="0.8"/>
<rect x="102.10" y="436.20" width="10.10" height="5.80" fill="none" stroke="#3a8a3a" stroke-width="0.8"/>
<line x1="107.15" y1="433.00" x2="107.15" y2="436.20" stroke="#3a8a3a" stroke-width="0.8"/>
<line x1="104.75" y1="433.00" x2="109.55" y2="433.00" stroke="#3a8a3a" stroke-width="0.8"/>
<rect x="118.00" y="440.20" width="8.80" height="1.80" fill="none" stroke="#3a7a4a" stroke-width="0.8"/>
<line x1="122.40" y1="437.40" x2="122.40" y2="440.20" stroke="#3a7a4a" stroke-width="0.8"/>
<line x1="120.00" y1="437.40" x2="124.80" y2="437.40" stroke="#3a7a4a" stroke-width="0.8"/>
<circle cx="45.80" cy="430.70" r="1.00" fill="#e8303a" stroke="none" stroke-width="1"/>
<circle cx="45.80" cy="439.30" r="1.00" fill="#e8303a" stroke="none" stroke-width="1"/>
<circle cx="45.80" cy="445.17" r="1.00" fill="#e8303a" stroke="none" stroke-width="1"/>
<circle cx="50.28" cy="444.74" r="1.00" fill="#e8303a" stroke="none" stroke-width="1"/>
<circle cx="46.32" cy="445.30" r="1.00" fill="#e8303a" stroke="none" stroke-width="1"/>
<circle cx="43.25" cy="444.95" r="1.00" fill="#e8303a" stroke="none" stroke-width="1"/>
<circle cx="47.48" cy="446.25" r="1.00" fill="#e8303a" stroke="none" stroke-width="1"/>
<circle cx="42.39" cy="444.00" r="1.00" fill="#e8303a" stroke="none" stroke-width="1"/>
<circle cx="42.36" cy="446.32" r="1.00" fill="#e8303a" stroke="none" stroke-width="1"/>
<circle cx="48.09" cy="442.79" r="1.00" fill="#e8303a" stroke="none" stroke-width="1"/>
<circle cx="50.83" cy="447.04" r="1.00" fill="#e8303a" stroke="none" stroke-width="1"/>
<circle cx="47.71" cy="445.43" r="1.00" fill="#e8303a" stroke="none" stroke-width="1"/>
<circle cx="43.00" cy="442.67" r="1.00" fill="#e8303a" stroke="none" stroke-width="1"/>
<circle cx="46.52" cy="442.87" r="1.00" fill="#e8303a" stroke="none" stroke-width="1"/>
<circle cx="43.31" cy="443.71" r="1.00" fill="#e8303a" stroke="none" stroke-width="1"/>
<circle cx="41.79" cy="444.73" r="1.00" fill="#e8303a" stroke="none" stroke-width="1"/>
<circle cx="45.69" cy="446.48" r="1.00" fill="#e8303a" stroke="none" stroke-width="1"/>
<circle cx="46.43" cy="445.55" r="1.00" fill="#e8303a" stroke="none" stroke-width="1"/>
<circle cx="46.25" cy="445.65" r="1.00" fill="#e8303a" stroke="none" stroke-width="1"/>
<circle cx="45.84" cy="443.88" r="1.00" fill="#e8303a" stroke="none" stroke-width="1"/>
<circle cx="50.98" cy="447.18" r="1.00" fill="#e8303a" stroke="none" stroke-width="1"/>
<circle cx="49.48" cy="445.86" r="1.00" fill="#e8303a" stroke="none" stroke-width="1"/>
<circle cx="44.50" cy="443.66" r="1.00" fill="#e8303a" stroke="none" stroke-width="1"/>
<circle cx="44.25" cy="442.92" r="1.00" fill="#e8303a" stroke="none" stroke-width="1"/>
<circle cx="48.78" cy="444.44" r="1.00" fill="#e8303a" stroke="none" stroke-width="1"/>
<circle cx="49.54" cy="444.38" r="1.00" fill="#e8303a" stroke="none" stroke-width="1"/>
<circle cx="50.60" cy="446.50" r="1.00" fill="#e8303a" stroke="none" stroke-width="1"/>
<circle cx="41.51" cy="443.56" r="1.00" fill="#e8303a" stroke="none" stroke-width="1"/>
<circle cx="50.15" cy="444.76" r="1.00" fill="#e8303a" stroke="none" stroke-width="1"/>
<circle cx="50.81" cy="444.43" r="1.00" fill="#e8303a" stroke="none" stroke-width="1"/>
<circle cx="42.19" cy="445.50" r="1.00" fill="#e8303a" stroke="none" stroke-width="1"/>
<circle cx="48.90" cy="443.84" r="1.00" fill="#e8303a" stroke="none" stroke-width="1"/>
<circle cx="42.33" cy="444.13" r="1.00" fill="#e8303a" stroke="none" stroke-width="1"/>
<circle cx="50.66" cy="446.09" r="1.00" fill="#e8303a" stroke="none" stroke-width="1"/>
<circle cx="42.62" cy="443.73" r="1.00" fill="#e8303a" stroke="none" stroke-width="1"/>
<circle cx="42.46" cy="442.88" r="1.00" fill="#e8303a" stroke="none" stroke-width="1"/>
<circle cx="61.20" cy="375.80" r="1.00" fill="#9a3030" stroke="none" stroke-width="1"/>
<circle cx="61.20" cy="409.80" r="1.00" fill="#9a3030" stroke="none" stroke-width="1"/>
<circle cx="61.20" cy="419.00" r="1.00" fill="#9a3030" stroke="none" stroke-width="1"/>
<circle cx="61.20" cy="422.30" r="1.00" fill="#9a3030" stroke="none" stroke-width="1"/>
<circle cx="61.20" cy="427.60" r="1.00" fill="#9a3030" stroke="none" stroke-width="1"/>
<circle cx="61.20" cy="441.60" r="1.00" fill="#9a3030" stroke="none" stroke-width="1"/>
<circle cx="75.30" cy="434.30" r="1.00" fill="#36b0e6" stroke="none" stroke-width="1"/>
<circle cx="76.50" cy="436.80" r="1.00" fill="#36b0e6" stroke="none" stroke-width="1"/>
<circle cx="74.50" cy="436.00" r="1.00" fill="#36b0e6" stroke="none" stroke-width="1"/>
<circle cx="79.51" cy="443.95" r="1.00" fill="#36b0e6" stroke="none" stroke-width="1"/>
<circle cx="77.18" cy="445.08" r="1.00" fill="#36b0e6" stroke="none" stroke-width="1"/>
<circle cx="73.57" cy="446.27" r="1.00" fill="#36b0e6" stroke="none" stroke-width="1"/>
<circle cx="72.98" cy="445.90" r="1.00" fill="#36b0e6" stroke="none" stroke-width="1"/>
<circle cx="72.84" cy="444.97" r="1.00" fill="#36b0e6" stroke="none" stroke-width="1"/>
<circle cx="73.79" cy="444.33" r="1.00" fill="#36b0e6" stroke="none" stroke-width="1"/>
<circle cx="81.22" cy="446.57" r="1.00" fill="#36b0e6" stroke="none" stroke-width="1"/>
<circle cx="74.68" cy="446.92" r="1.00" fill="#36b0e6" stroke="none" stroke-width="1"/>
<circle cx="73.76" cy="444.86" r="1.00" fill="#36b0e6" stroke="none" stroke-width="1"/>
<circle cx="80.07" cy="445.90" r="1.00" fill="#36b0e6" stroke="none" stroke-width="1"/>
<circle cx="72.68" cy="447.36" r="1.00" fill="#36b0e6" stroke="none" stroke-width="1"/>
<circle cx="73.79" cy="444.28" r="1.00" fill="#36b0e6" stroke="none" stroke-width="1"/>
<circle cx="79.27" cy="444.58" r="1.00" fill="#36b0e6" stroke="none" stroke-width="1"/>
<circle cx="74.60" cy="443.51" r="1.00" fill="#36b0e6" stroke="none" stroke-width="1"/>
<circle cx="72.58" cy="445.65" r="1.00" fill="#36b0e6" stroke="none" stroke-width="1"/>
<circle cx="74.08" cy="445.73" r="1.00" fill="#36b0e6" stroke="none" stroke-width="1"/>
<circle cx="75.34" cy="445.10" r="1.00" fill="#36b0e6" stroke="none" stroke-width="1"/>
<circle cx="81.10" cy="445.23" r="1.00" fill="#36b0e6" stroke="none" stroke-width="1"/>
<circle cx="91.60" cy="422.70" r="1.00" fill="#283888" stroke="none" stroke-width="1"/>
<circle cx="89.60" cy="430.70" r="1.00" fill="#283888" stroke="none" stroke-width="1"/>
<circle cx="91.60" cy="431.20" r="1.00" fill="#283888" stroke="none" stroke-width="1"/>
<circle cx="93.80" cy="430.70" r="1.00" fill="#283888" stroke="none" stroke-width="1"/>
<circle cx="91.60" cy="439.30" r="1.00" fill="#283888" stroke="none" stroke-width="1"/>
<circle cx="91.60" cy="444.20" r="1.00" fill="#283888" stroke="none" stroke-width="1"/>
<circle cx="91.60" cy="446.00" r="1.00" fill="#283888" stroke="none" stroke-width="1"/>
<circle cx="107.00" cy="420.20" r="1.00" fill="#4cb050" stroke="none" stroke-width="1"/>
<circle cx="107.00" cy="423.90" r="1.00" fill="#4cb050" stroke="none" stroke-width="1"/>
<circle cx="107.00" cy="427.60" r="1.00" fill="#4cb050" stroke="none" stroke-width="1"/>
<circle cx="107.00" cy="445.40" r="1.00" fill="#4cb050" stroke="none" stroke-width="1"/>
<circle cx="107.81" cy="438.81" r="1.00" fill="#4cb050" stroke="none" stroke-width="1"/>
<circle cx="104.87" cy="435.10" r="1.00" fill="#4cb050" stroke="none" stroke-width="1"/>
<circle cx="110.31" cy="438.55" r="1.00" fill="#4cb050" stroke="none" stroke-width="1"/>
<circle cx="105.37" cy="435.29" r="1.00" fill="#4cb050" stroke="none" stroke-width="1"/>
<circle cx="109.05" cy="439.19" r="1.00" fill="#4cb050" stroke="none" stroke-width="1"/>
<circle cx="104.97" cy="439.24" r="1.00" fill="#4cb050" stroke="none" stroke-width="1"/>
<circle cx="110.12" cy="437.44" r="1.00" fill="#4cb050" stroke="none" stroke-width="1"/>
<circle cx="106.66" cy="434.84" r="1.00" fill="#4cb050" stroke="none" stroke-width="1"/>
<circle cx="103.79" cy="439.31" r="1.00" fill="#4cb050" stroke="none" stroke-width="1"/>
<circle cx="105.29" cy="437.96" r="1.00" fill="#4cb050" stroke="none" stroke-width="1"/>
<circle cx="105.43" cy="438.58" r="1.00" fill="#4cb050" stroke="none" stroke-width="1"/>
<circle cx="107.97" cy="435.83" r="1.00" fill="#4cb050" stroke="none" stroke-width="1"/>
<circle cx="104.82" cy="438.05" r="1.00" fill="#4cb050" stroke="none" stroke-width="1"/>
<circle cx="104.02" cy="435.49" r="1.00" fill="#4cb050" stroke="none" stroke-width="1"/>
<circle cx="122.40" cy="431.60" r="1.00" fill="#3a8a5a" stroke="none" stroke-width="1"/>
<circle cx="122.40" cy="447.30" r="1.00" fill="#3a8a5a" stroke="none" stroke-width="1"/>
<circle cx="122.97" cy="441.70" r="1.00" fill="#3a8a5a" stroke="none" stroke-width="1"/>
<circle cx="123.41" cy="440.56" r="1.00" fill="#3a8a5a" stroke="none" stroke-width="1"/>
<circle cx="125.84" cy="440.41" r="1.00" fill="#3a8a5a" stroke="none" stroke-width="1"/>
<circle cx="118.63" cy="440.54" r="1.00" fill="#3a8a5a" stroke="none" stroke-width="1"/>
<circle cx="122.07" cy="440.12" r="1.00" fill="#3a8a5a" stroke="none" stroke-width="1"/>
<circle cx="119.91" cy="440.74" r="1.00" fill="#3a8a5a" stroke="none" stroke-width="1"/>
<line x1="36.60" y1="442.00" x2="133.00" y2="442.00" stroke="#000" stroke-width="1.8"/>
<text x="138.40" y="336.10" font-size="12.8" font-weight="bold" text-anchor="middle" fill="#000" stroke="#000" stroke-width="0.32">E</text>
<rect x="200.70" y="357.40" width="47.40" height="93.00" fill="#f8d2c9" stroke="none" stroke-width="1"/>
<text x="226.20" y="367.13" font-size="9.4" font-weight="normal" text-anchor="middle" fill="#000" textLength="23.00" lengthAdjust="spacingAndGlyphs" stroke="#000" stroke-width="0.25">ATRA</text>
<polyline points="192.30,443.37 214.80,431.64 235.80,391.77 257.60,443.37" stroke="#9aa3a8" stroke-width="0.55" fill="none" opacity="0.7"/>
<polyline points="192.30,438.67 214.80,380.05 235.80,422.26 257.60,438.67" stroke="#9aa3a8" stroke-width="0.55" fill="none" opacity="0.7"/>
<polyline points="192.30,422.26 214.80,412.88 235.80,380.05 257.60,436.33" stroke="#9aa3a8" stroke-width="0.55" fill="none" opacity="0.7"/>
<polyline points="192.30,441.02 214.80,438.67 235.80,403.50 257.60,419.91" stroke="#9aa3a8" stroke-width="0.55" fill="none" opacity="0.7"/>
<polyline points="192.30,429.29 214.80,401.15 235.80,429.29 257.60,380.05" stroke="#9aa3a8" stroke-width="0.55" fill="none" opacity="0.7"/>
<polyline points="192.30,445.71 214.80,436.33 235.80,438.67 257.60,448.05" stroke="#9aa3a8" stroke-width="0.55" fill="none" opacity="0.7"/>
<polyline points="192.30,433.99 214.80,419.91 235.80,408.19 257.60,403.50" stroke="#9aa3a8" stroke-width="0.55" fill="none" opacity="0.7"/>
<polyline points="192.30,443.37 214.80,441.02 235.80,443.37 257.60,445.71" stroke="#9aa3a8" stroke-width="0.55" fill="none" opacity="0.7"/>
<polyline points="192.30,436.33 214.80,429.29 235.80,433.99 257.60,441.02" stroke="#9aa3a8" stroke-width="0.55" fill="none" opacity="0.7"/>
<polyline points="192.30,438.67 214.80,391.77 235.80,415.23 257.60,443.37" stroke="#9aa3a8" stroke-width="0.55" fill="none" opacity="0.7"/>
<polyline points="192.30,441.02 214.80,445.71 235.80,436.33 257.60,429.29" stroke="#9aa3a8" stroke-width="0.55" fill="none" opacity="0.7"/>
<polyline points="192.30,415.23 214.80,433.99 235.80,441.02 257.60,438.67" stroke="#9aa3a8" stroke-width="0.55" fill="none" opacity="0.7"/>
<polyline points="192.30,431.64 214.80,436.33 235.80,426.95 257.60,415.23" stroke="#9aa3a8" stroke-width="0.55" fill="none" opacity="0.7"/>
<polyline points="192.30,445.71 214.80,443.37 235.80,429.29 257.60,445.71" stroke="#9aa3a8" stroke-width="0.55" fill="none" opacity="0.7"/>
<polyline points="192.30,441.02 214.80,424.60 235.80,431.64 257.60,436.33" stroke="#9aa3a8" stroke-width="0.55" fill="none" opacity="0.7"/>
<polyline points="192.30,436.33 214.80,441.02 235.80,445.71 257.60,443.37" stroke="#9aa3a8" stroke-width="0.55" fill="none" opacity="0.7"/>
<polyline points="192.30,443.37 214.80,408.19 235.80,391.77 257.60,441.02" stroke="#9aa3a8" stroke-width="0.55" fill="none" opacity="0.7"/>
<polyline points="192.30,438.67 214.80,433.99 235.80,436.33 257.60,401.15" stroke="#9aa3a8" stroke-width="0.55" fill="none" opacity="0.7"/>
<polyline points="192.30,429.29 214.80,422.26 235.80,443.37 257.60,433.99" stroke="#9aa3a8" stroke-width="0.55" fill="none" opacity="0.7"/>
<polyline points="192.30,441.02 214.80,438.67 235.80,419.91 257.60,448.05" stroke="#9aa3a8" stroke-width="0.55" fill="none" opacity="0.7"/>
<polyline points="192.30,433.99 214.80,443.37 235.80,438.67 257.60,431.64" stroke="#9aa3a8" stroke-width="0.55" fill="none" opacity="0.7"/>
<polyline points="192.30,438.67 214.80,429.29 235.80,424.60 257.60,441.02" stroke="#9aa3a8" stroke-width="0.55" fill="none" opacity="0.7"/>
<polyline points="192.30,443.37 214.80,445.71 235.80,441.02 257.60,436.33" stroke="#9aa3a8" stroke-width="0.55" fill="none" opacity="0.7"/>
<line x1="178.10" y1="356.10" x2="178.10" y2="450.90" stroke="#000" stroke-width="1.1"/>
<line x1="177.60" y1="450.40" x2="273.00" y2="450.40" stroke="#000" stroke-width="1.1"/>
<line x1="174.90" y1="450.40" x2="178.10" y2="450.40" stroke="#000" stroke-width="1"/>
<text x="172.50" y="453.15" font-size="8.0" font-weight="normal" text-anchor="end" fill="#000" stroke="#000" stroke-width="0.2">0</text>
<line x1="174.90" y1="426.95" x2="178.10" y2="426.95" stroke="#000" stroke-width="1"/>
<text x="172.50" y="429.70" font-size="8.0" font-weight="normal" text-anchor="end" fill="#000" stroke="#000" stroke-width="0.2">1</text>
<line x1="174.90" y1="403.50" x2="178.10" y2="403.50" stroke="#000" stroke-width="1"/>
<text x="172.50" y="406.25" font-size="8.0" font-weight="normal" text-anchor="end" fill="#000" stroke="#000" stroke-width="0.2">2</text>
<line x1="174.90" y1="380.05" x2="178.10" y2="380.05" stroke="#000" stroke-width="1"/>
<text x="172.50" y="382.80" font-size="8.0" font-weight="normal" text-anchor="end" fill="#000" stroke="#000" stroke-width="0.2">3</text>
<line x1="174.90" y1="356.60" x2="178.10" y2="356.60" stroke="#000" stroke-width="1"/>
<text x="172.50" y="359.35" font-size="8.0" font-weight="normal" text-anchor="end" fill="#000" stroke="#000" stroke-width="0.2">4</text>
<line x1="192.30" y1="450.40" x2="192.30" y2="452.90" stroke="#000" stroke-width="1"/>
<line x1="214.80" y1="450.40" x2="214.80" y2="452.90" stroke="#000" stroke-width="1"/>
<line x1="235.80" y1="450.40" x2="235.80" y2="452.90" stroke="#000" stroke-width="1"/>
<line x1="257.60" y1="450.40" x2="257.60" y2="452.90" stroke="#000" stroke-width="1"/>
<text x="192.30" y="461.20" font-size="6.1" font-weight="bold" text-anchor="middle" fill="#000" stroke="#000" stroke-width="0.18">Pre-</text>
<text x="192.30" y="468.10" font-size="6.1" font-weight="bold" text-anchor="middle" fill="#000" stroke="#000" stroke-width="0.18">TX</text>
<text x="214.80" y="461.20" font-size="6.1" font-weight="bold" text-anchor="middle" fill="#000" stroke="#000" stroke-width="0.18">C2D0</text>
<text x="235.80" y="461.20" font-size="6.1" font-weight="bold" text-anchor="middle" fill="#000" stroke="#000" stroke-width="0.18">C4D0</text>
<text x="257.60" y="461.20" font-size="6.1" font-weight="bold" text-anchor="middle" fill="#000" stroke="#000" stroke-width="0.18">Post-</text>
<text x="257.60" y="468.10" font-size="6.1" font-weight="bold" text-anchor="middle" fill="#000" stroke="#000" stroke-width="0.18">ATRA</text>
<line x1="192.30" y1="435.63" x2="192.30" y2="437.97" stroke="#333" stroke-width="0.8"/>
<line x1="190.30" y1="435.63" x2="194.30" y2="435.63" stroke="#333" stroke-width="0.8"/>
<line x1="190.30" y1="437.97" x2="194.30" y2="437.97" stroke="#333" stroke-width="0.8"/>
<line x1="214.80" y1="423.43" x2="214.80" y2="430.47" stroke="#333" stroke-width="0.8"/>
<line x1="212.80" y1="423.43" x2="216.80" y2="423.43" stroke="#333" stroke-width="0.8"/>
<line x1="212.80" y1="430.47" x2="216.80" y2="430.47" stroke="#333" stroke-width="0.8"/>
<line x1="235.80" y1="424.61" x2="235.80" y2="431.64" stroke="#333" stroke-width="0.8"/>
<line x1="233.80" y1="424.61" x2="237.80" y2="424.61" stroke="#333" stroke-width="0.8"/>
<line x1="233.80" y1="431.64" x2="237.80" y2="431.64" stroke="#333" stroke-width="0.8"/>
<line x1="257.60" y1="430.23" x2="257.60" y2="438.68" stroke="#333" stroke-width="0.8"/>
<line x1="255.60" y1="430.23" x2="259.60" y2="430.23" stroke="#333" stroke-width="0.8"/>
<line x1="255.60" y1="438.68" x2="259.60" y2="438.68" stroke="#333" stroke-width="0.8"/>
<polyline points="192.30,436.80 214.80,426.95 235.80,428.12 257.60,434.45" stroke="#111" stroke-width="1.3" fill="none"/>
<circle cx="192.30" cy="436.80" r="2.20" fill="#111" stroke="none" stroke-width="1"/>
<circle cx="214.80" cy="426.95" r="2.20" fill="#111" stroke="none" stroke-width="1"/>
<circle cx="235.80" cy="428.12" r="2.20" fill="#111" stroke="none" stroke-width="1"/>
<circle cx="257.60" cy="434.45" r="2.20" fill="#111" stroke="none" stroke-width="1"/>
<text x="214.30" y="423.89" font-size="10" font-weight="bold" text-anchor="middle" fill="#000" stroke="#000" stroke-width="0.32">**</text>
<text x="214.80" y="340.76" font-size="9.2" font-weight="bold" text-anchor="middle" fill="#000" textLength="93.80" lengthAdjust="spacingAndGlyphs" stroke="#000" stroke-width="0.32">HLA-DR+ Myeloid cells</text>
<text x="215.70" y="350.16" font-size="9.2" font-weight="bold" text-anchor="middle" fill="#000" textLength="61.70" lengthAdjust="spacingAndGlyphs" stroke="#000" stroke-width="0.32">All Pts. (<tspan font-style="italic">n</tspan> = 23)</text>
<text x="162.00" y="406.26" font-size="8.6" font-weight="bold" text-anchor="middle" fill="#000" textLength="82.00" lengthAdjust="spacingAndGlyphs" transform="rotate(-90 162.00 403.30)" stroke="#000" stroke-width="0.15">Number of cells x 10<tspan font-size="5.6" dy="-3.0">7</tspan><tspan dy="3.0">/L</tspan></text>
<rect x="325.60" y="358.50" width="46.60" height="91.90" fill="#f8d2c9" stroke="none" stroke-width="1"/>
<text x="349.50" y="367.13" font-size="9.4" font-weight="normal" text-anchor="middle" fill="#000" textLength="23.00" lengthAdjust="spacingAndGlyphs" stroke="#000" stroke-width="0.25">ATRA</text>
<polyline points="317.10,397.87 338.90,373.15 360.70,428.77 382.00,441.13" stroke="#9aa3a8" stroke-width="0.55" fill="none" opacity="0.7"/>
<polyline points="317.10,434.95 338.90,400.96 360.70,413.32 382.00,444.22" stroke="#9aa3a8" stroke-width="0.55" fill="none" opacity="0.7"/>
<polyline points="317.10,438.04 338.90,431.86 360.70,373.15 382.00,410.23" stroke="#9aa3a8" stroke-width="0.55" fill="none" opacity="0.7"/>
<polyline points="317.10,431.86 338.90,434.95 360.70,387.06 382.00,383.96" stroke="#9aa3a8" stroke-width="0.55" fill="none" opacity="0.7"/>
<polyline points="317.10,441.13 338.90,422.59 360.70,425.68 382.00,441.13" stroke="#9aa3a8" stroke-width="0.55" fill="none" opacity="0.7"/>
<polyline points="317.10,438.04 338.90,410.23 360.70,441.13 382.00,444.22" stroke="#9aa3a8" stroke-width="0.55" fill="none" opacity="0.7"/>
<polyline points="317.10,428.77 338.90,425.68 360.70,431.86 382.00,434.95" stroke="#9aa3a8" stroke-width="0.55" fill="none" opacity="0.7"/>
<polyline points="317.10,441.13 338.90,438.04 360.70,416.41 382.00,431.86" stroke="#9aa3a8" stroke-width="0.55" fill="none" opacity="0.7"/>
<polyline points="317.10,434.95 338.90,441.13 360.70,422.59 382.00,447.31" stroke="#9aa3a8" stroke-width="0.55" fill="none" opacity="0.7"/>
<polyline points="317.10,438.04 338.90,419.50 360.70,438.04 382.00,441.13" stroke="#9aa3a8" stroke-width="0.55" fill="none" opacity="0.7"/>
<polyline points="317.10,431.86 338.90,428.77 360.70,434.95 382.00,422.59" stroke="#9aa3a8" stroke-width="0.55" fill="none" opacity="0.7"/>
<polyline points="317.10,441.13 338.90,434.95 360.70,444.22 382.00,438.04" stroke="#9aa3a8" stroke-width="0.55" fill="none" opacity="0.7"/>
<polyline points="317.10,434.95 338.90,416.41 360.70,425.68 382.00,444.22" stroke="#9aa3a8" stroke-width="0.55" fill="none" opacity="0.7"/>
<polyline points="317.10,438.04 338.90,431.86 360.70,419.50 382.00,428.77" stroke="#9aa3a8" stroke-width="0.55" fill="none" opacity="0.7"/>
<polyline points="317.10,431.86 338.90,422.59 360.70,441.13 382.00,438.04" stroke="#9aa3a8" stroke-width="0.55" fill="none" opacity="0.7"/>
<polyline points="317.10,444.22 338.90,438.04 360.70,428.77 382.00,434.95" stroke="#9aa3a8" stroke-width="0.55" fill="none" opacity="0.7"/>
<polyline points="317.10,434.95 338.90,425.68 360.70,410.23 382.00,441.13" stroke="#9aa3a8" stroke-width="0.55" fill="none" opacity="0.7"/>
<line x1="303.80" y1="357.20" x2="303.80" y2="450.90" stroke="#000" stroke-width="1.1"/>
<line x1="303.30" y1="450.40" x2="392.70" y2="450.40" stroke="#000" stroke-width="1.1"/>
<line x1="300.60" y1="450.40" x2="303.80" y2="450.40" stroke="#000" stroke-width="1"/>
<text x="298.20" y="453.15" font-size="8.0" font-weight="normal" text-anchor="end" fill="#000" stroke="#000" stroke-width="0.2">0</text>
<line x1="300.60" y1="419.50" x2="303.80" y2="419.50" stroke="#000" stroke-width="1"/>
<text x="298.20" y="422.25" font-size="8.0" font-weight="normal" text-anchor="end" fill="#000" stroke="#000" stroke-width="0.2">1</text>
<line x1="300.60" y1="388.60" x2="303.80" y2="388.60" stroke="#000" stroke-width="1"/>
<text x="298.20" y="391.35" font-size="8.0" font-weight="normal" text-anchor="end" fill="#000" stroke="#000" stroke-width="0.2">2</text>
<line x1="300.60" y1="357.70" x2="303.80" y2="357.70" stroke="#000" stroke-width="1"/>
<text x="298.20" y="360.45" font-size="8.0" font-weight="normal" text-anchor="end" fill="#000" stroke="#000" stroke-width="0.2">3</text>
<line x1="317.10" y1="450.40" x2="317.10" y2="452.90" stroke="#000" stroke-width="1"/>
<line x1="338.90" y1="450.40" x2="338.90" y2="452.90" stroke="#000" stroke-width="1"/>
<line x1="360.70" y1="450.40" x2="360.70" y2="452.90" stroke="#000" stroke-width="1"/>
<line x1="382.00" y1="450.40" x2="382.00" y2="452.90" stroke="#000" stroke-width="1"/>
<text x="317.10" y="461.20" font-size="6.1" font-weight="bold" text-anchor="middle" fill="#000" stroke="#000" stroke-width="0.18">Pre-</text>
<text x="317.10" y="468.10" font-size="6.1" font-weight="bold" text-anchor="middle" fill="#000" stroke="#000" stroke-width="0.18">TX</text>
<text x="338.90" y="461.20" font-size="6.1" font-weight="bold" text-anchor="middle" fill="#000" stroke="#000" stroke-width="0.18">C2D0</text>
<text x="360.70" y="461.20" font-size="6.1" font-weight="bold" text-anchor="middle" fill="#000" stroke="#000" stroke-width="0.18">C4D0</text>
<text x="382.00" y="461.20" font-size="6.1" font-weight="bold" text-anchor="middle" fill="#000" stroke="#000" stroke-width="0.18">Post-</text>
<text x="382.00" y="468.10" font-size="6.1" font-weight="bold" text-anchor="middle" fill="#000" stroke="#000" stroke-width="0.18">ATRA</text>
<line x1="317.10" y1="430.31" x2="317.10" y2="436.49" stroke="#333" stroke-width="0.8"/>
<line x1="315.10" y1="430.31" x2="319.10" y2="430.31" stroke="#333" stroke-width="0.8"/>
<line x1="315.10" y1="436.49" x2="319.10" y2="436.49" stroke="#333" stroke-width="0.8"/>
<line x1="338.90" y1="416.72" x2="338.90" y2="427.22" stroke="#333" stroke-width="0.8"/>
<line x1="336.90" y1="416.72" x2="340.90" y2="416.72" stroke="#333" stroke-width="0.8"/>
<line x1="336.90" y1="427.22" x2="340.90" y2="427.22" stroke="#333" stroke-width="0.8"/>
<line x1="360.70" y1="413.32" x2="360.70" y2="425.68" stroke="#333" stroke-width="0.8"/>
<line x1="358.70" y1="413.32" x2="362.70" y2="413.32" stroke="#333" stroke-width="0.8"/>
<line x1="358.70" y1="425.68" x2="362.70" y2="425.68" stroke="#333" stroke-width="0.8"/>
<line x1="382.00" y1="428.77" x2="382.00" y2="438.04" stroke="#333" stroke-width="0.8"/>
<line x1="380.00" y1="428.77" x2="384.00" y2="428.77" stroke="#333" stroke-width="0.8"/>
<line x1="380.00" y1="438.04" x2="384.00" y2="438.04" stroke="#333" stroke-width="0.8"/>
<polyline points="317.10,433.40 338.90,421.97 360.70,419.50 382.00,433.40" stroke="#dd3333" stroke-width="1.3" fill="none"/>
<circle cx="317.10" cy="433.40" r="2.20" fill="#dd3333" stroke="none" stroke-width="1"/>
<circle cx="338.90" cy="421.97" r="2.20" fill="#dd3333" stroke="none" stroke-width="1"/>
<circle cx="360.70" cy="419.50" r="2.20" fill="#dd3333" stroke="none" stroke-width="1"/>
<circle cx="382.00" cy="433.40" r="2.20" fill="#dd3333" stroke="none" stroke-width="1"/>
<text x="338.40" y="418.91" font-size="10" font-weight="bold" text-anchor="middle" fill="#000" stroke="#000" stroke-width="0.32">*</text>
<text x="346.60" y="340.76" font-size="9.2" font-weight="bold" text-anchor="middle" fill="#000" textLength="93.80" lengthAdjust="spacingAndGlyphs" stroke="#000" stroke-width="0.32">HLA-DR+ Myeloid cells</text>
<text x="347.50" y="350.16" font-size="9.2" font-weight="bold" text-anchor="middle" fill="#000" textLength="81.90" lengthAdjust="spacingAndGlyphs" stroke="#000" stroke-width="0.32">Responders (<tspan font-style="italic">n</tspan> = 17)</text>
<text x="287.40" y="406.26" font-size="8.6" font-weight="bold" text-anchor="middle" fill="#000" textLength="82.00" lengthAdjust="spacingAndGlyphs" transform="rotate(-90 287.40 403.30)" stroke="#000" stroke-width="0.15">Number of cells x 10<tspan font-size="5.6" dy="-3.0">7</tspan><tspan dy="3.0">/L</tspan></text>
<rect x="442.30" y="358.00" width="46.80" height="92.40" fill="#f8d2c9" stroke="none" stroke-width="1"/>
<text x="464.40" y="367.13" font-size="9.4" font-weight="normal" text-anchor="middle" fill="#000" textLength="23.00" lengthAdjust="spacingAndGlyphs" stroke="#000" stroke-width="0.25">ATRA</text>
<polyline points="433.80,431.76 455.80,400.31 477.40,430.59 498.60,379.33" stroke="#9aa3a8" stroke-width="0.55" fill="none" opacity="0.7"/>
<polyline points="433.80,424.77 455.80,414.28 477.40,421.27 498.60,421.27" stroke="#9aa3a8" stroke-width="0.55" fill="none" opacity="0.7"/>
<polyline points="433.80,436.42 455.80,434.09 477.40,441.08 498.60,448.07" stroke="#9aa3a8" stroke-width="0.55" fill="none" opacity="0.7"/>
<polyline points="433.80,441.08 455.80,437.58 477.40,448.07 498.60,446.90" stroke="#9aa3a8" stroke-width="0.55" fill="none" opacity="0.7"/>
<polyline points="433.80,443.41 455.80,449.23 477.40,442.25 498.60,448.07" stroke="#9aa3a8" stroke-width="0.55" fill="none" opacity="0.7"/>
<polyline points="433.80,439.91 455.80,436.42 477.40,432.92 498.60,444.57" stroke="#9aa3a8" stroke-width="0.55" fill="none" opacity="0.7"/>
<line x1="420.10" y1="356.70" x2="420.10" y2="450.90" stroke="#000" stroke-width="1.1"/>
<line x1="419.60" y1="450.40" x2="510.00" y2="450.40" stroke="#000" stroke-width="1.1"/>
<line x1="416.90" y1="450.40" x2="420.10" y2="450.40" stroke="#000" stroke-width="1"/>
<text x="414.50" y="453.15" font-size="8.0" font-weight="normal" text-anchor="end" fill="#000" stroke="#000" stroke-width="0.2">0</text>
<line x1="416.90" y1="427.10" x2="420.10" y2="427.10" stroke="#000" stroke-width="1"/>
<text x="414.50" y="429.85" font-size="8.0" font-weight="normal" text-anchor="end" fill="#000" stroke="#000" stroke-width="0.2">1</text>
<line x1="416.90" y1="403.80" x2="420.10" y2="403.80" stroke="#000" stroke-width="1"/>
<text x="414.50" y="406.55" font-size="8.0" font-weight="normal" text-anchor="end" fill="#000" stroke="#000" stroke-width="0.2">2</text>
<line x1="416.90" y1="380.50" x2="420.10" y2="380.50" stroke="#000" stroke-width="1"/>
<text x="414.50" y="383.25" font-size="8.0" font-weight="normal" text-anchor="end" fill="#000" stroke="#000" stroke-width="0.2">3</text>
<line x1="416.90" y1="357.20" x2="420.10" y2="357.20" stroke="#000" stroke-width="1"/>
<text x="414.50" y="359.95" font-size="8.0" font-weight="normal" text-anchor="end" fill="#000" stroke="#000" stroke-width="0.2">4</text>
<line x1="433.80" y1="450.40" x2="433.80" y2="452.90" stroke="#000" stroke-width="1"/>
<line x1="455.80" y1="450.40" x2="455.80" y2="452.90" stroke="#000" stroke-width="1"/>
<line x1="477.40" y1="450.40" x2="477.40" y2="452.90" stroke="#000" stroke-width="1"/>
<line x1="498.60" y1="450.40" x2="498.60" y2="452.90" stroke="#000" stroke-width="1"/>
<text x="433.80" y="461.20" font-size="6.1" font-weight="bold" text-anchor="middle" fill="#000" stroke="#000" stroke-width="0.18">Pre-</text>
<text x="433.80" y="468.10" font-size="6.1" font-weight="bold" text-anchor="middle" fill="#000" stroke="#000" stroke-width="0.18">TX</text>
<text x="455.80" y="461.20" font-size="6.1" font-weight="bold" text-anchor="middle" fill="#000" stroke="#000" stroke-width="0.18">C2D0</text>
<text x="477.40" y="461.20" font-size="6.1" font-weight="bold" text-anchor="middle" fill="#000" stroke="#000" stroke-width="0.18">C4D0</text>
<text x="498.60" y="461.20" font-size="6.1" font-weight="bold" text-anchor="middle" fill="#000" stroke="#000" stroke-width="0.18">Post-</text>
<text x="498.60" y="468.10" font-size="6.1" font-weight="bold" text-anchor="middle" fill="#000" stroke="#000" stroke-width="0.18">ATRA</text>
<line x1="433.80" y1="436.19" x2="433.80" y2="441.31" stroke="#333" stroke-width="0.8"/>
<line x1="431.80" y1="436.19" x2="435.80" y2="436.19" stroke="#333" stroke-width="0.8"/>
<line x1="431.80" y1="441.31" x2="435.80" y2="441.31" stroke="#333" stroke-width="0.8"/>
<line x1="455.80" y1="424.77" x2="455.80" y2="438.75" stroke="#333" stroke-width="0.8"/>
<line x1="453.80" y1="424.77" x2="457.80" y2="424.77" stroke="#333" stroke-width="0.8"/>
<line x1="453.80" y1="438.75" x2="457.80" y2="438.75" stroke="#333" stroke-width="0.8"/>
<line x1="477.40" y1="432.46" x2="477.40" y2="440.38" stroke="#333" stroke-width="0.8"/>
<line x1="475.40" y1="432.46" x2="479.40" y2="432.46" stroke="#333" stroke-width="0.8"/>
<line x1="475.40" y1="440.38" x2="479.40" y2="440.38" stroke="#333" stroke-width="0.8"/>
<line x1="498.60" y1="420.11" x2="498.60" y2="443.41" stroke="#333" stroke-width="0.8"/>
<line x1="496.60" y1="420.11" x2="500.60" y2="420.11" stroke="#333" stroke-width="0.8"/>
<line x1="496.60" y1="443.41" x2="500.60" y2="443.41" stroke="#333" stroke-width="0.8"/>
<polyline points="433.80,438.75 455.80,431.76 477.40,436.42 498.60,431.76" stroke="#2a3a9a" stroke-width="1.3" fill="none"/>
<circle cx="433.80" cy="438.75" r="2.20" fill="#2a3a9a" stroke="none" stroke-width="1"/>
<circle cx="455.80" cy="431.76" r="2.20" fill="#2a3a9a" stroke="none" stroke-width="1"/>
<circle cx="477.40" cy="436.42" r="2.20" fill="#2a3a9a" stroke="none" stroke-width="1"/>
<circle cx="498.60" cy="431.76" r="2.20" fill="#2a3a9a" stroke="none" stroke-width="1"/>
<text x="463.80" y="340.76" font-size="9.2" font-weight="bold" text-anchor="middle" fill="#000" textLength="93.80" lengthAdjust="spacingAndGlyphs" stroke="#000" stroke-width="0.32">HLA-DR+ Myeloid cells</text>
<text x="464.70" y="350.16" font-size="9.2" font-weight="bold" text-anchor="middle" fill="#000" textLength="97.80" lengthAdjust="spacingAndGlyphs" stroke="#000" stroke-width="0.32">Non-Responders (<tspan font-style="italic">n</tspan> = 6)</text>
<text x="404.00" y="406.26" font-size="8.6" font-weight="bold" text-anchor="middle" fill="#000" textLength="82.00" lengthAdjust="spacingAndGlyphs" transform="rotate(-90 404.00 403.30)" stroke="#000" stroke-width="0.15">Number of cells x 10<tspan font-size="5.6" dy="-3.0">7</tspan><tspan dy="3.0">/L</tspan></text>
</svg>
</body></html>
